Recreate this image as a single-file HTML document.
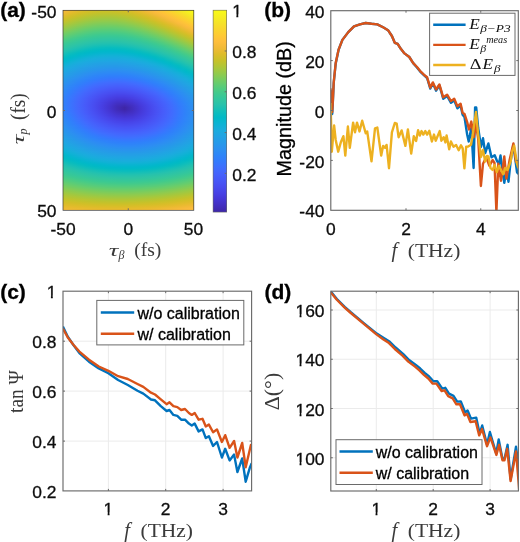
<!DOCTYPE html>
<html><head><meta charset="utf-8"><title>figure</title>
<style>
html,body{margin:0;padding:0;background:#fff}
#fig{position:relative;width:520px;height:542px;overflow:hidden;background:#fff}
.r{position:absolute;left:63px;width:130.8px;height:1px}
#cbar{position:absolute;left:213.1px;top:10.2px;width:13.6px;height:201.9px;background:linear-gradient(180deg,#f9fb15,#f6ef20,#f5e327,#f9d62d,#feca33,#febe3c,#f1ba37,#debc2a,#c8c129,#afc637,#94ca4a,#77cc60,#5ccc76,#44ca8a,#34c79c,#28c2ab,#12beb9,#01b9c6,#0cb3d3,#1aacdd,#21a3e3,#269ae9,#2c90f0,#2e85f8,#347afd,#3f6efe,#4562fc,#4757f7,#484cef,#4741e5,#4536d5,#422ebf,#3e26a8)}
svg{position:absolute;left:0;top:0}
</style></head><body>
<div id="fig">
<div class="r" style="top:10px;background:linear-gradient(90deg,#fabb3d,#efba35,#e4bb2c,#dabd28,#d3bf27,#cfc028,#cfc028,#d2bf27,#d8be28,#e0bc2a,#ebba31,#f6ba3c,#fec03b,#feca33,#f9d72d,#f5e426,#f6f21d,#f9fb15)"></div>
<div class="r" style="top:11px;background:linear-gradient(90deg,#f7ba3c,#eaba31,#dfbc2a,#d5be28,#cec028,#cac129,#cac129,#ccc028,#d3bf27,#dbbd29,#e6bb2d,#f2ba38,#fdbd3d,#fec735,#fbd32e,#f6e128,#f6ef20,#f9fb15)"></div>
<div class="r" style="top:12px;background:linear-gradient(90deg,#f2ba38,#e6bb2d,#dabd28,#d0bf27,#c9c129,#c5c22a,#c4c22b,#c7c12a,#cdc028,#d6be28,#e2bc2b,#eeba34,#fabb3d,#fec437,#fcd030,#f6dd29,#f5ec23,#f9fa16)"></div>
<div class="r" style="top:13px;background:linear-gradient(90deg,#eeba34,#e1bc2b,#d5be28,#cbc129,#c4c22b,#bfc32d,#bfc32e,#c2c22c,#c8c129,#d1bf27,#ddbd29,#eabb30,#f7ba3c,#fec13a,#fdcd32,#f8da2b,#f5e825,#f8f61a)"></div>
<div class="r" style="top:14px;background:linear-gradient(90deg,#eabb30,#dcbd29,#d0bf27,#c6c22a,#bec32e,#bac430,#b9c430,#bcc42f,#c3c22b,#ccc028,#d8be28,#e5bb2d,#f3ba39,#febe3c,#fec934,#f9d62d,#f5e426,#f7f31d)"></div>
<div class="r" style="top:15px;background:linear-gradient(90deg,#e5bb2d,#d7be28,#cac129,#c0c32d,#b8c431,#b4c534,#b3c534,#b6c532,#bdc32e,#c7c12a,#d3bf27,#e0bc2b,#efba35,#fcbc3d,#fec636,#fbd32e,#f6e128,#f6ef20)"></div>
<div class="r" style="top:16px;background:linear-gradient(90deg,#e0bc2b,#d2bf27,#c5c22a,#bac430,#b2c535,#aec637,#adc638,#b0c636,#b7c532,#c1c32c,#cdc028,#dbbd29,#eaba31,#f9ba3d,#fec338,#fccf30,#f6dd29,#f5ec22)"></div>
<div class="r" style="top:17px;background:linear-gradient(90deg,#dbbd29,#cdc028,#bfc32d,#b4c533,#acc738,#a8c73b,#a7c73c,#aac739,#b1c635,#bbc42f,#c8c129,#d6be28,#e5bb2d,#f4ba3a,#fec03b,#fdcc32,#f8da2b,#f5e825)"></div>
<div class="r" style="top:18px;background:linear-gradient(90deg,#d6be28,#c7c12a,#b9c430,#aec637,#a6c83c,#a2c840,#a1c840,#a4c83e,#abc739,#b5c533,#c2c22c,#d1bf27,#e0bc2b,#f0ba36,#fdbd3d,#fec934,#f9d62d,#f5e426)"></div>
<div class="r" style="top:19px;background:linear-gradient(90deg,#d1bf27,#c1c32c,#b3c534,#a8c73b,#a0c841,#9bc944,#9bc945,#9ec942,#a5c83e,#afc637,#bcc42f,#cbc129,#dbbd29,#ebba32,#fabb3d,#fec537,#fbd22f,#f6e128)"></div>
<div class="r" style="top:20px;background:linear-gradient(90deg,#cbc029,#bbc42f,#adc638,#a2c840,#9ac946,#95ca49,#94ca4a,#97ca47,#9ec942,#a9c73b,#b6c532,#c5c22a,#d6be28,#e7bb2e,#f7ba3c,#fec239,#fccf30,#f7dd2a)"></div>
<div class="r" style="top:21px;background:linear-gradient(90deg,#c6c22a,#b5c533,#a7c73c,#9bc944,#93ca4b,#8fcb4e,#8ecb4f,#91ca4c,#98ca47,#a2c83f,#b0c636,#bfc32d,#d0bf27,#e2bc2b,#f2ba38,#febf3b,#fdcb33,#f8d92b)"></div>
<div class="r" style="top:22px;background:linear-gradient(90deg,#c0c32d,#afc637,#a0c840,#95ca49,#8dcb50,#88cb53,#87cb54,#8acb51,#91ca4c,#9cc944,#a9c73a,#b9c431,#cac129,#dcbd29,#eeba34,#fcbd3d,#fec835,#fad62d)"></div>
<div class="r" style="top:23px;background:linear-gradient(90deg,#bac430,#a9c73b,#9ac945,#8ecb4e,#86cb55,#81cc58,#81cc59,#84cc56,#8bcb51,#95ca49,#a2c83f,#b3c534,#c4c22a,#d7be28,#e9bb2f,#f9bb3d,#fec537,#fbd22f)"></div>
<div class="r" style="top:24px;background:linear-gradient(90deg,#b3c534,#a2c83f,#93ca4a,#88cb53,#7fcc5a,#7bcc5d,#7acc5e,#7dcc5b,#84cc56,#8ecb4e,#9cc944,#acc738,#bec32e,#d1bf27,#e4bb2c,#f5ba3a,#fec13a,#fdce31)"></div>
<div class="r" style="top:25px;background:linear-gradient(90deg,#adc638,#9cc944,#8dcb4f,#81cc58,#79cc5f,#74cc62,#73cd63,#76cc60,#7dcc5b,#87cb54,#95ca49,#a5c83d,#b8c431,#cbc129,#debc2a,#f0ba36,#febe3c,#fdcb33)"></div>
<div class="r" style="top:26px;background:linear-gradient(90deg,#a7c73c,#95ca49,#86cb55,#7acc5d,#72cd64,#6dcd67,#6dcd68,#6fcd65,#76cc60,#81cc59,#8ecb4e,#9fc942,#b1c635,#c5c22a,#d9be28,#ebba32,#fbbc3d,#fec735)"></div>
<div class="r" style="top:27px;background:linear-gradient(90deg,#a0c841,#8ecb4e,#7fcc5a,#73cd62,#6bcd69,#67cd6c,#66cd6d,#69cd6b,#6fcd66,#79cc5e,#87cb54,#98ca47,#aac739,#bfc32e,#d3bf27,#e6bb2d,#f8ba3d,#fec438)"></div>
<div class="r" style="top:28px;background:linear-gradient(90deg,#99c946,#88cb53,#78cc5f,#6dcd68,#65cd6e,#61cd71,#60cd72,#63cd70,#69cd6b,#72cd63,#80cc59,#91ca4c,#a4c83e,#b8c431,#cdc028,#e1bc2b,#f3ba39,#fec13a)"></div>
<div class="r" style="top:29px;background:linear-gradient(90deg,#93ca4b,#81cc59,#72cd64,#66cd6d,#5fcd73,#5bcc76,#5acc77,#5dcc75,#62cd70,#6ccd68,#79cc5e,#8acb52,#9dc943,#b1c635,#c7c12a,#dbbd29,#eeba35,#febd3c)"></div>
<div class="r" style="top:30px;background:linear-gradient(90deg,#8ccb50,#7acc5e,#6bcd69,#60cd72,#59cc78,#55cc7b,#54cc7c,#57cc7a,#5ccc75,#65cd6e,#72cd64,#82cc57,#95ca49,#aac739,#c0c32d,#d6be28,#e9bb30,#fabb3d)"></div>
<div class="r" style="top:31px;background:linear-gradient(90deg,#85cb55,#73cd63,#65cd6e,#5acc77,#53cc7d,#4fcc80,#4fcc81,#51cc7f,#56cc7b,#5fcd73,#6bcd69,#7bcc5d,#8ecb4e,#a3c83e,#bac430,#d0c028,#e4bb2c,#f7ba3c)"></div>
<div class="r" style="top:32px;background:linear-gradient(90deg,#7ecc5b,#6ccd68,#5fcd73,#55cc7c,#4dcc82,#4acb85,#49cb85,#4bcb84,#50cc7f,#59cc78,#64cd6f,#74cc62,#87cb54,#9cc944,#b3c534,#c9c129,#dfbc2a,#f2ba38)"></div>
<div class="r" style="top:33px;background:linear-gradient(90deg,#77cc60,#66cd6d,#59cc78,#4fcc81,#48cb86,#44cb89,#44ca8a,#46cb88,#4acb84,#53cc7d,#5ecd74,#6dcd68,#80cc59,#95ca49,#acc739,#c3c22b,#d9be28,#edba33)"></div>
<div class="r" style="top:34px;background:linear-gradient(90deg,#70cd65,#60cd72,#53cc7d,#49cb85,#43ca8b,#3fca8e,#3fca8e,#40ca8d,#45cb89,#4dcb82,#58cc79,#66cd6d,#78cc5f,#8ecb4f,#a4c83e,#bcc42f,#d3bf27,#e8bb2e)"></div>
<div class="r" style="top:35px;background:linear-gradient(90deg,#6acd6a,#5acc78,#4dcc82,#44cb8a,#3eca8f,#3cc992,#3bc993,#3cc991,#40ca8d,#47cb87,#52cc7e,#5fcd73,#71cd64,#86cb55,#9dc943,#b5c533,#ccc028,#e2bc2b)"></div>
<div class="r" style="top:36px;background:linear-gradient(90deg,#63cd6f,#54cc7d,#48cb87,#3fca8e,#3ac993,#38c896,#37c897,#39c895,#3cc992,#42ca8c,#4bcb83,#59cc78,#6acd6a,#7fcc5a,#96ca48,#aec637,#c6c22a,#ddbd29)"></div>
<div class="r" style="top:37px;background:linear-gradient(90deg,#5dcc75,#4ecc81,#42ca8b,#3bc992,#37c897,#35c79a,#35c79b,#35c799,#38c896,#3dc990,#46cb88,#53cc7d,#63cd70,#77cc60,#8ecb4e,#a7c73c,#bfc32d,#d7be28)"></div>
<div class="r" style="top:38px;background:linear-gradient(90deg,#57cc7a,#48cb86,#3eca8f,#38c897,#34c79b,#32c69e,#32c69f,#33c69d,#35c79a,#39c995,#40ca8d,#4ccb82,#5ccc75,#70cd65,#87cb54,#9fc941,#b8c431,#d0bf27)"></div>
<div class="r" style="top:39px;background:linear-gradient(90deg,#51cc7e,#43ca8a,#3ac994,#35c79a,#32c69f,#30c5a2,#2fc5a2,#30c5a1,#32c69e,#36c899,#3cc991,#47cb87,#56cc7b,#68cd6b,#7fcc5a,#98c947,#b1c635,#cac129)"></div>
<div class="r" style="top:40px;background:linear-gradient(90deg,#4ccb83,#3eca8f,#37c898,#32c69e,#2fc5a3,#2dc4a5,#2dc4a6,#2dc4a5,#30c5a2,#33c69d,#38c896,#41ca8c,#50cc80,#62cd71,#78cc5f,#91ca4d,#aac73a,#c3c22b)"></div>
<div class="r" style="top:41px;background:linear-gradient(90deg,#46cb88,#3bc993,#34c79c,#30c5a2,#2cc4a6,#2ac3a9,#29c3aa,#2ac3a8,#2dc4a6,#30c5a1,#35c79a,#3dc991,#49cb85,#5bcc77,#70cd65,#89cb52,#a3c83f,#bcc42f)"></div>
<div class="r" style="top:42px;background:linear-gradient(90deg,#41ca8c,#37c897,#31c69f,#2dc4a6,#29c3aa,#26c2ac,#25c2ad,#27c2ac,#2ac3a9,#2ec4a5,#32c69e,#39c895,#44ca8a,#54cc7c,#69cd6b,#81cc58,#9bc944,#b5c533)"></div>
<div class="r" style="top:43px;background:linear-gradient(90deg,#3dc990,#34c79b,#2fc5a3,#2ac3a9,#25c2ad,#22c1b0,#21c1b0,#22c1af,#26c2ad,#2bc3a8,#30c5a2,#35c79a,#3eca8f,#4ecc81,#62cd71,#79cc5e,#94ca4a,#aec637)"></div>
<div class="r" style="top:44px;background:linear-gradient(90deg,#39c995,#32c69f,#2cc4a7,#26c2ac,#20c1b1,#1dc0b3,#1bc0b4,#1dc0b3,#21c1b0,#27c2ac,#2dc4a6,#33c69e,#3ac993,#48cb86,#5bcc76,#72cd64,#8ccb50,#a7c73c)"></div>
<div class="r" style="top:45px;background:linear-gradient(90deg,#36c899,#2fc5a2,#29c3aa,#22c1b0,#1bc0b4,#17bfb6,#15bfb7,#17bfb6,#1cc0b4,#22c1af,#29c3a9,#30c5a2,#37c898,#42ca8b,#54cc7c,#6acd6a,#84cb56,#9fc941)"></div>
<div class="r" style="top:46px;background:linear-gradient(90deg,#34c79c,#2dc4a6,#25c2ad,#1dc0b3,#15bfb7,#11beba,#0fbebb,#11beba,#16bfb7,#1dc0b3,#25c2ad,#2dc4a6,#34c79c,#3dc990,#4ecc81,#63cd70,#7dcc5c,#98c947)"></div>
<div class="r" style="top:47px;background:linear-gradient(90deg,#31c6a0,#2ac3a9,#20c1b1,#17bfb6,#0fbebb,#0abdbd,#09bcbe,#0abdbd,#0fbebb,#17bfb6,#20c1b1,#29c3a9,#31c6a0,#39c995,#48cb86,#5ccc75,#75cc61,#90ca4d)"></div>
<div class="r" style="top:48px;background:linear-gradient(90deg,#2ec5a4,#26c2ad,#1bc0b4,#11beba,#09bdbe,#06bcc0,#05bbc1,#06bcc0,#09bcbe,#10beba,#1bc0b4,#25c2ad,#2ec4a4,#36c799,#42ca8b,#56cc7b,#6dcd67,#89cb53)"></div>
<div class="r" style="top:49px;background:linear-gradient(90deg,#2cc4a7,#22c1b0,#16bfb7,#0bbdbd,#05bbc1,#02bac3,#02bac4,#02bac4,#05bbc1,#0abdbd,#14bfb8,#20c1b1,#2bc3a8,#33c69d,#3dc990,#4fcc80,#66cd6d,#81cc59)"></div>
<div class="r" style="top:50px;background:linear-gradient(90deg,#28c3aa,#1dc0b3,#0fbeba,#06bcc0,#02bac4,#01b9c7,#01b9c8,#01b9c7,#02bac5,#05bbc1,#0ebdbb,#1bc0b4,#27c2ac,#30c5a1,#39c895,#49cb85,#5fcd73,#79cc5e)"></div>
<div class="r" style="top:51px;background:linear-gradient(90deg,#25c2ae,#17bfb6,#0abdbd,#02bbc3,#01b9c7,#01b8ca,#02b7cb,#01b8ca,#01b9c8,#02bac4,#08bcbf,#14bfb8,#23c1af,#2dc4a5,#36c799,#43ca8a,#58cc79,#71cd64)"></div>
<div class="r" style="top:52px;background:linear-gradient(90deg,#20c1b1,#11beb9,#05bbc1,#01b9c6,#01b7ca,#04b6cd,#05b6ce,#04b6cd,#02b7cb,#01b9c7,#04bbc2,#0ebdbb,#1dc0b3,#2ac3a9,#33c69d,#3eca8f,#52cc7e,#6acd6a)"></div>
<div class="r" style="top:53px;background:linear-gradient(90deg,#1bc0b4,#0bbdbd,#02bac4,#01b8c9,#04b6cd,#07b5d0,#08b4d1,#08b5d0,#05b6ce,#02b7cb,#01bac5,#08bcbf,#17bfb6,#26c2ad,#30c5a2,#3ac994,#4bcb83,#63cd70)"></div>
<div class="r" style="top:54px;background:linear-gradient(90deg,#16bfb7,#07bcc0,#01b9c7,#03b7cc,#08b5d0,#0cb3d3,#0db3d4,#0db3d3,#09b4d1,#05b6ce,#01b8c9,#03bbc2,#10beba,#21c1b0,#2dc4a5,#36c898,#45cb88,#5ccc75)"></div>
<div class="r" style="top:55px;background:linear-gradient(90deg,#10beba,#03bbc3,#01b8ca,#06b5cf,#0cb3d3,#11b2d5,#12b1d6,#11b1d6,#0eb2d4,#09b4d1,#03b7cc,#01bac5,#0abdbd,#1bc0b4,#29c3a9,#33c79d,#40ca8d,#56cc7b)"></div>
<div class="r" style="top:56px;background:linear-gradient(90deg,#0abdbd,#01bac6,#04b6cc,#0ab4d2,#11b1d6,#14b0d8,#15afd9,#15afd9,#13b1d7,#0eb3d4,#06b5cf,#01b8c9,#05bbc1,#15bfb8,#25c2ad,#30c5a1,#3cc992,#4fcc80)"></div>
<div class="r" style="top:57px;background:linear-gradient(90deg,#06bcc0,#01b8c8,#07b5cf,#0fb2d5,#14b0d8,#17aedb,#18addb,#18addb,#16afd9,#12b1d7,#0bb3d2,#03b7cc,#02bac4,#0ebdbb,#20c1b1,#2ec4a5,#38c897,#49cb85)"></div>
<div class="r" style="top:58px;background:linear-gradient(90deg,#02bbc3,#02b7cb,#0bb3d2,#13b0d7,#18aedb,#1aacdd,#1aabdd,#1aabdd,#19addc,#16afd9,#10b2d5,#06b5cf,#01b9c8,#08bcbf,#1bc0b4,#2ac3a8,#35c79b,#43ca8a)"></div>
<div class="r" style="top:59px;background:linear-gradient(90deg,#01b9c6,#05b6ce,#0fb2d5,#16afda,#1aacdd,#1caadf,#1ca9e0,#1ca9df,#1babde,#19addc,#14b0d8,#0bb3d2,#02b7cb,#04bbc2,#14bfb8,#26c2ac,#32c69f,#3eca8f)"></div>
<div class="r" style="top:60px;background:linear-gradient(90deg,#01b8c9,#09b4d1,#13b0d7,#19addc,#1caadf,#1da8e0,#1ea7e1,#1ea7e1,#1da8e0,#1babde,#17aeda,#10b2d5,#05b6ce,#01bac5,#0ebdbb,#22c1b0,#2fc5a3,#3ac994)"></div>
<div class="r" style="top:61px;background:linear-gradient(90deg,#02b7cb,#0db3d3,#16afda,#1babde,#1da8e0,#1fa6e2,#20a5e3,#20a5e2,#1fa6e2,#1da9e0,#1aacdd,#14b0d8,#09b4d1,#01b8c9,#08bcbf,#1cc0b3,#2cc4a7,#36c898)"></div>
<div class="r" style="top:62px;background:linear-gradient(90deg,#05b6ce,#11b1d6,#19addc,#1da9e0,#1fa6e2,#21a3e3,#22a2e4,#21a2e4,#20a4e3,#1fa6e1,#1caadf,#17aedb,#0eb2d4,#03b7cc,#03bbc2,#16bfb7,#28c3aa,#34c79c)"></div>
<div class="r" style="top:63px;background:linear-gradient(90deg,#08b4d1,#14b0d8,#1babde,#1ea7e1,#21a3e3,#22a1e4,#23a0e5,#23a0e5,#22a1e4,#20a4e3,#1ea8e1,#1aacdd,#13b0d7,#06b5cf,#01bac5,#0fbeba,#24c2ae,#31c6a0)"></div>
<div class="r" style="top:64px;background:linear-gradient(90deg,#0cb3d3,#17aeda,#1ca9df,#20a5e2,#22a1e4,#249fe5,#249ee6,#249ee6,#249fe5,#22a2e4,#1fa5e2,#1caadf,#16afda,#0bb4d2,#01b8c9,#09bdbe,#1fc0b1,#2ec5a4)"></div>
<div class="r" style="top:65px;background:linear-gradient(90deg,#11b2d5,#19acdc,#1ea7e1,#21a3e4,#249fe5,#259de7,#259be8,#259be7,#259de7,#249fe5,#21a3e3,#1ea7e1,#19addc,#10b2d5,#03b7cc,#05bbc1,#1abfb5,#2bc3a8)"></div>
<div class="r" style="top:66px;background:linear-gradient(90deg,#14b0d8,#1baade,#1fa5e2,#23a1e5,#259de7,#269ae8,#2699e9,#2699e9,#269ae8,#259de7,#23a1e5,#1fa5e2,#1baade,#14b0d8,#06b5cf,#02bac4,#13beb8,#27c2ab)"></div>
<div class="r" style="top:67px;background:linear-gradient(90deg,#16aeda,#1da9e0,#21a3e3,#249ee6,#269be8,#2798ea,#2797eb,#2796eb,#2798ea,#269ae8,#249ee6,#21a3e3,#1da8e0,#17aeda,#0ab4d2,#01b9c7,#0dbdbc,#24c1af)"></div>
<div class="r" style="top:68px;background:linear-gradient(90deg,#19addc,#1ea7e1,#22a1e4,#259ce7,#2798ea,#2896ec,#2994ed,#2994ed,#2895ec,#2798ea,#259ce7,#23a0e5,#1fa6e2,#1aacdd,#0fb2d5,#02b7cb,#08bcbf,#1ec0b2)"></div>
<div class="r" style="top:69px;background:linear-gradient(90deg,#1aabdd,#20a5e2,#249fe5,#269ae8,#2896eb,#2a93ee,#2b91ef,#2b91ef,#2a93ee,#2895ec,#2699e9,#249ee6,#20a4e3,#1caadf,#13b0d7,#05b6ce,#03bbc2,#19bfb5)"></div>
<div class="r" style="top:70px;background:linear-gradient(90deg,#1caadf,#21a3e3,#249de7,#2798ea,#2994ed,#2b91ef,#2c8ff1,#2c8ff1,#2c90f0,#2a93ee,#2797eb,#259ce7,#22a1e4,#1da8e0,#17aeda,#08b4d1,#01bac5,#13beb9)"></div>
<div class="r" style="top:71px;background:linear-gradient(90deg,#1da8e0,#22a1e4,#259be8,#2896ec,#2b91ef,#2c8ef1,#2d8cf3,#2d8cf3,#2d8df2,#2c90f0,#2994ed,#2699e9,#249fe5,#1fa6e2,#19acdc,#0db3d3,#01b8c8,#0cbdbc)"></div>
<div class="r" style="top:72px;background:linear-gradient(90deg,#1fa6e2,#249fe5,#2699e9,#2a93ed,#2c8ff1,#2d8bf3,#2d8af5,#2d89f5,#2d8bf4,#2d8df2,#2b92ef,#2797eb,#259de7,#21a3e3,#1baade,#12b1d6,#02b7cb,#08bcbf)"></div>
<div class="r" style="top:73px;background:linear-gradient(90deg,#20a4e3,#249de6,#2797eb,#2b91ef,#2d8cf3,#2d89f5,#2e87f7,#2e86f7,#2d88f6,#2d8bf4,#2c8ff1,#2994ed,#269ae8,#22a1e4,#1da8e0,#15afd9,#06b6ce,#03bbc2)"></div>
<div class="r" style="top:74px;background:linear-gradient(90deg,#21a3e4,#259ce7,#2895ec,#2c8ff1,#2d8af5,#2e86f7,#2e84f8,#2e84f9,#2e85f8,#2d88f6,#2d8cf3,#2b92ee,#2798ea,#249fe5,#1fa6e1,#18aedb,#09b4d1,#02bac5)"></div>
<div class="r" style="top:75px;background:linear-gradient(90deg,#23a1e4,#269ae9,#2a93ee,#2d8df2,#2d87f6,#2e84f9,#2f81fa,#2f81fa,#2f82f9,#2e85f8,#2d89f5,#2c8ff1,#2896ec,#259de7,#20a4e3,#1aacdd,#0eb3d4,#01b9c8)"></div>
<div class="r" style="top:76px;background:linear-gradient(90deg,#249fe5,#2798ea,#2b91ef,#2d8af4,#2e85f8,#2f81fa,#307efb,#317efb,#307ffb,#2f82f9,#2e87f7,#2d8cf3,#2a93ed,#269ae8,#22a2e4,#1caadf,#12b1d6,#02b7cb)"></div>
<div class="r" style="top:77px;background:linear-gradient(90deg,#249ee6,#2896eb,#2c8ff1,#2d88f6,#2f82f9,#317efb,#327bfc,#337bfd,#327cfc,#307ffb,#2e84f9,#2d8af5,#2b91ef,#2798ea,#23a0e5,#1da8e0,#15afd9,#05b6cd)"></div>
<div class="r" style="top:78px;background:linear-gradient(90deg,#259ce7,#2994ed,#2d8cf3,#2e86f8,#3080fb,#327bfc,#3578fd,#3677fe,#3579fd,#327cfc,#2f81fa,#2e87f7,#2c8ef1,#2896ec,#249ee6,#1fa6e2,#18aedb,#08b5d0)"></div>
<div class="r" style="top:79px;background:linear-gradient(90deg,#269ae8,#2a92ee,#2d8af4,#2e83f9,#317dfc,#3578fd,#3875fe,#3974fe,#3875fe,#3579fd,#317efb,#2e84f8,#2d8bf3,#2a93ed,#259be7,#21a4e3,#1aacdd,#0cb3d3)"></div>
<div class="r" style="top:80px;background:linear-gradient(90deg,#2699e9,#2b90f0,#2d88f6,#2f81fa,#337afd,#3875fe,#3b72ff,#3d71ff,#3b72ff,#3876fe,#337bfc,#2f81fa,#2d89f5,#2b91ef,#2699e9,#22a2e4,#1baadf,#10b2d5)"></div>
<div class="r" style="top:81px;background:linear-gradient(90deg,#2797eb,#2c8ef1,#2e86f7,#307ffb,#3678fe,#3b72ff,#3e6fff,#3f6efe,#3e6fff,#3b72ff,#3678fe,#307ffb,#2e86f7,#2c8ef1,#2797eb,#23a0e5,#1da8e0,#13b0d7)"></div>
<div class="r" style="top:82px;background:linear-gradient(90deg,#2895ec,#2d8df2,#2e84f8,#327cfc,#3975fe,#3e6fff,#416cfe,#416bfe,#416cfe,#3e6fff,#3974fe,#327cfc,#2e84f9,#2d8cf3,#2895ec,#249ee6,#1ea6e1,#16afd9)"></div>
<div class="r" style="top:83px;background:linear-gradient(90deg,#2994ed,#2d8bf4,#2f82f9,#347afd,#3b72ff,#406cfe,#4369fe,#4367fd,#4368fe,#416cfe,#3c71ff,#3579fd,#2f81fa,#2d8af5,#2a93ee,#259ce7,#20a5e3,#18addb)"></div>
<div class="r" style="top:84px;background:linear-gradient(90deg,#2a92ee,#2d89f5,#2f80fa,#3677fe,#3e6fff,#426afe,#4466fd,#4464fd,#4465fd,#4369fe,#3f6eff,#3876fe,#317efb,#2e87f7,#2b90ef,#269ae9,#21a3e3,#1aacdd)"></div>
<div class="r" style="top:85px;background:linear-gradient(90deg,#2b91ef,#2d87f6,#317efb,#3975fe,#406dfe,#4367fd,#4563fc,#4561fc,#4562fc,#4465fd,#416bfe,#3b72fe,#327cfc,#2e85f8,#2c8ef1,#2798ea,#23a1e4,#1caadf)"></div>
<div class="r" style="top:86px;background:linear-gradient(90deg,#2c8ff0,#2e86f8,#327cfc,#3b72fe,#426afe,#4464fd,#4660fb,#465efb,#465ffb,#4562fc,#4368fe,#3e6fff,#3579fd,#2f82f9,#2d8cf3,#2896ec,#249fe5,#1da8e0)"></div>
<div class="r" style="top:87px;background:linear-gradient(90deg,#2c8ef1,#2e84f8,#347afd,#3d70ff,#4368fe,#4561fc,#465dfa,#475bf9,#475cfa,#465ffb,#4465fd,#406cfe,#3876fe,#3080fa,#2d8af5,#2994ed,#249de6,#1ea7e1)"></div>
<div class="r" style="top:88px;background:linear-gradient(90deg,#2d8df2,#2f83f9,#3678fd,#3f6eff,#4465fd,#465ffb,#475af9,#4758f8,#4759f8,#475cfa,#4562fc,#426afe,#3b73fe,#317dfb,#2d88f6,#2b92ee,#259ce7,#1fa5e2)"></div>
<div class="r" style="top:89px;background:linear-gradient(90deg,#2d8bf3,#2f81fa,#3876fe,#406cfe,#4563fd,#475cfa,#4757f8,#4755f6,#4756f7,#4759f8,#465ffb,#4367fd,#3d70ff,#337bfc,#2e86f8,#2c90f0,#269ae9,#21a4e3)"></div>
<div class="r" style="top:90px;background:linear-gradient(90deg,#2d8af4,#307ffb,#3974fe,#426afe,#4561fc,#475af9,#4755f6,#4852f4,#4853f5,#4756f7,#475cfa,#4564fd,#3f6efe,#3578fd,#2e83f9,#2c8ef1,#2798ea,#22a2e4)"></div>
<div class="r" style="top:91px;background:linear-gradient(90deg,#2d89f5,#317efb,#3b72fe,#4368fe,#465ffb,#4757f7,#4852f4,#484ff2,#4850f2,#4853f5,#4759f9,#4561fc,#416bfe,#3876fe,#2f81fa,#2d8cf3,#2797eb,#23a1e5)"></div>
<div class="r" style="top:92px;background:linear-gradient(90deg,#2d88f6,#317dfc,#3d71ff,#4466fd,#475dfa,#4755f6,#484ff2,#484cf0,#484df0,#4850f3,#4757f7,#465ffb,#4368fe,#3a74fe,#307ffb,#2d8af4,#2895ec,#249fe5)"></div>
<div class="r" style="top:93px;background:linear-gradient(90deg,#2e87f7,#327bfc,#3e6fff,#4464fd,#475bf9,#4853f4,#484df0,#4849ed,#484aed,#484df1,#4854f5,#475cfa,#4466fd,#3c71ff,#317dfc,#2d89f6,#2a93ed,#249ee6)"></div>
<div class="r" style="top:94px;background:linear-gradient(90deg,#2e86f7,#347afd,#3f6efe,#4563fc,#4759f8,#4850f3,#484aee,#4746ea,#4746eb,#484aee,#4851f3,#475af9,#4564fd,#3e6fff,#327bfc,#2e87f7,#2b92ee,#259ce7)"></div>
<div class="r" style="top:95px;background:linear-gradient(90deg,#2e85f8,#3579fd,#406cfe,#4561fc,#4757f7,#484ef1,#4747eb,#4743e7,#4743e7,#4747eb,#484ef1,#4757f7,#4561fc,#406dfe,#3479fd,#2e85f8,#2b90ef,#259be8)"></div>
<div class="r" style="top:96px;background:linear-gradient(90deg,#2e84f8,#3678fd,#416bfe,#4660fb,#4755f6,#484cf0,#4745e9,#4740e4,#4740e4,#4744e9,#484cef,#4755f6,#465ffb,#416bfe,#3677fe,#2e84f9,#2c8ff1,#269ae9)"></div>
<div class="r" style="top:97px;background:linear-gradient(90deg,#2e83f9,#3777fe,#426afe,#465efb,#4854f5,#484aee,#4742e6,#463de0,#463de0,#4741e5,#4849ed,#4853f5,#465dfb,#4269fe,#3876fe,#2f82f9,#2c8ef2,#2699e9)"></div>
<div class="r" style="top:98px;background:linear-gradient(90deg,#2e83f9,#3876fe,#4269fe,#465dfb,#4852f4,#4848ec,#4740e3,#463bdc,#463adc,#473fe2,#4747eb,#4851f3,#475bfa,#4367fd,#3a74fe,#2f81fa,#2d8cf3,#2798ea)"></div>
<div class="r" style="top:99px;background:linear-gradient(90deg,#2f82f9,#3875fe,#4368fe,#475cfa,#4851f3,#4746eb,#463ee0,#4538d8,#4538d7,#463cde,#4744e8,#484ff1,#475af9,#4465fd,#3b72ff,#307ffb,#2d8bf3,#2797eb)"></div>
<div class="r" style="top:100px;background:linear-gradient(90deg,#2f82fa,#3975fe,#4368fd,#475bfa,#4850f3,#4745e9,#463cde,#4536d3,#4435d1,#4639da,#4742e6,#484df0,#4758f8,#4564fd,#3d71ff,#317efb,#2d8af4,#2896ec)"></div>
<div class="r" style="top:101px;background:linear-gradient(90deg,#2f82fa,#3974fe,#4367fd,#475bf9,#484ff2,#4744e8,#463adb,#4434ce,#4433cc,#4537d6,#4740e3,#484bee,#4756f7,#4562fc,#3e6fff,#317dfc,#2d89f5,#2995ec)"></div>
<div class="r" style="top:102px;background:linear-gradient(90deg,#2f81fa,#3a74fe,#4367fd,#475af9,#484ef1,#4742e6,#4538d8,#4332c9,#4331c6,#4435d1,#463ee1,#4849ed,#4755f6,#4561fc,#3f6eff,#327cfc,#2d88f6,#2994ed)"></div>
<div class="r" style="top:103px;background:linear-gradient(90deg,#2f81fa,#3a74fe,#4466fd,#475af9,#484ef1,#4742e6,#4537d6,#4230c4,#422ebf,#4433cd,#463cde,#4848ec,#4854f5,#4660fc,#406dfe,#337bfd,#2d87f7,#2a93ee)"></div>
<div class="r" style="top:104px;background:linear-gradient(90deg,#2f81fa,#3a74fe,#4466fd,#4759f9,#484df0,#4741e5,#4536d4,#422fc0,#412cb9,#4332c8,#463bdc,#4746ea,#4853f5,#465ffb,#406cfe,#347afd,#2e87f7,#2a92ee)"></div>
<div class="r" style="top:105px;background:linear-gradient(90deg,#2f81fa,#3a74fe,#4466fd,#4759f9,#484df0,#4740e4,#4535d2,#412dbc,#402ab3,#4230c4,#4639da,#4745e9,#4852f4,#465efb,#416bfe,#3579fd,#2e86f7,#2b92ee)"></div>
<div class="r" style="top:106px;background:linear-gradient(90deg,#2f81fa,#3a74fe,#4466fd,#4759f9,#484df0,#4740e4,#4435d1,#412cba,#3f28ad,#422fc1,#4538d8,#4744e8,#4851f3,#465efb,#416bfe,#3578fd,#2e85f8,#2b91ef)"></div>
<div class="r" style="top:107px;background:linear-gradient(90deg,#2f82fa,#3a74fe,#4366fd,#475af9,#484df0,#4740e4,#4435d1,#412cb8,#3e26a8,#422ebf,#4538d7,#4744e8,#4850f3,#465dfa,#426afe,#3678fd,#2e85f8,#2b91ef)"></div>
<div class="r" style="top:108px;background:linear-gradient(90deg,#2f82fa,#3974fe,#4367fd,#475af9,#484df1,#4740e4,#4435d1,#412cb9,#3e26a8,#412ebe,#4537d6,#4743e7,#4850f3,#475dfa,#426afe,#3677fe,#2e85f8,#2b90ef)"></div>
<div class="r" style="top:109px;background:linear-gradient(90deg,#2f82f9,#3975fe,#4367fd,#475af9,#484ef1,#4741e5,#4536d2,#412cba,#3e26a9,#412ebe,#4537d6,#4743e7,#4850f2,#475cfa,#4269fe,#3777fe,#2e84f8,#2b90f0)"></div>
<div class="r" style="top:110px;background:linear-gradient(90deg,#2e83f9,#3875fe,#4368fe,#475bf9,#484ef1,#4742e6,#4536d4,#412dbd,#3f28af,#422ebf,#4537d6,#4743e7,#4850f2,#475cfa,#4269fe,#3777fe,#2e84f8,#2c90f0)"></div>
<div class="r" style="top:111px;background:linear-gradient(90deg,#2e83f9,#3876fe,#4368fe,#475cfa,#484ff2,#4743e7,#4537d6,#422fc1,#402ab5,#422fc2,#4538d7,#4743e7,#4850f2,#475cfa,#4269fe,#3777fe,#2e84f8,#2c90f0)"></div>
<div class="r" style="top:112px;background:linear-gradient(90deg,#2e84f8,#3777fe,#4269fe,#475cfa,#4850f3,#4744e8,#4539d8,#4330c5,#412cba,#4330c5,#4539d8,#4744e8,#4850f3,#475cfa,#4269fe,#3777fe,#2e84f8,#2c90f0)"></div>
<div class="r" style="top:113px;background:linear-gradient(90deg,#2e85f8,#3678fe,#426afe,#465dfb,#4851f3,#4745e9,#463adb,#4332ca,#422fc0,#4332c9,#4639da,#4744e9,#4851f3,#475dfa,#4269fe,#3777fe,#2e84f8,#2c90f0)"></div>
<div class="r" style="top:114px;background:linear-gradient(90deg,#2e85f8,#3579fd,#416bfe,#465efb,#4852f4,#4747eb,#463cde,#4434ce,#4331c6,#4433cd,#463bdc,#4745e9,#4851f3,#465dfa,#426afe,#3677fe,#2e84f8,#2c90f0)"></div>
<div class="r" style="top:115px;background:linear-gradient(90deg,#2e86f7,#347afd,#406cfe,#4660fb,#4854f5,#4848ec,#463de0,#4536d3,#4433cc,#4435d1,#463cdf,#4746eb,#4852f4,#465efb,#426afe,#3678fe,#2e84f8,#2c90f0)"></div>
<div class="r" style="top:116px;background:linear-gradient(90deg,#2e87f7,#337bfd,#3f6dfe,#4661fc,#4755f6,#484aee,#473fe3,#4538d7,#4435d1,#4537d6,#463ee1,#4848ec,#4853f5,#465efb,#416bfe,#3678fd,#2e85f8,#2b90f0)"></div>
<div class="r" style="top:117px;background:linear-gradient(90deg,#2d88f6,#327cfc,#3f6eff,#4562fc,#4756f7,#484cef,#4742e6,#463adb,#4537d6,#4639d9,#4740e3,#4849ed,#4854f5,#465ffb,#416bfe,#3579fd,#2e85f8,#2b91ef)"></div>
<div class="r" style="top:118px;background:linear-gradient(90deg,#2d89f5,#317dfc,#3e70ff,#4563fd,#4758f8,#484df1,#4744e8,#463ddf,#463ada,#463bdd,#4741e5,#484bee,#4755f6,#4660fc,#406cfe,#3479fd,#2e86f8,#2b91ef)"></div>
<div class="r" style="top:119px;background:linear-gradient(90deg,#2d8af5,#317efb,#3c71ff,#4465fd,#475af9,#484ff2,#4746ea,#473fe3,#463cdf,#463ee1,#4744e8,#484cf0,#4756f7,#4561fc,#406dfe,#347afd,#2e86f7,#2b91ef)"></div>
<div class="r" style="top:120px;background:linear-gradient(90deg,#2d8bf4,#307ffb,#3b73fe,#4366fd,#475bfa,#4851f4,#4848ec,#4742e6,#473fe2,#4740e4,#4746ea,#484ef1,#4758f8,#4562fc,#3f6eff,#337bfd,#2e87f7,#2b92ee)"></div>
<div class="r" style="top:121px;background:linear-gradient(90deg,#2d8cf3,#2f81fa,#3974fe,#4368fe,#465dfa,#4853f5,#484bef,#4745e9,#4742e6,#4743e7,#4848ec,#4850f2,#4759f8,#4563fd,#3e6fff,#327cfc,#2d87f7,#2a92ee)"></div>
<div class="r" style="top:122px;background:linear-gradient(90deg,#2d8df2,#2f82fa,#3876fe,#426afe,#465ffb,#4755f6,#484df1,#4747eb,#4745e9,#4746ea,#484aee,#4852f4,#475bf9,#4465fd,#3d70ff,#317dfc,#2d88f6,#2a93ee)"></div>
<div class="r" style="top:123px;background:linear-gradient(90deg,#2c8ef1,#2e83f9,#3677fe,#416cfe,#4561fc,#4758f8,#4850f2,#484aee,#4747ec,#4848ec,#484df0,#4854f5,#475cfa,#4466fd,#3c72ff,#317efb,#2d89f5,#2994ed)"></div>
<div class="r" style="top:124px;background:linear-gradient(90deg,#2c8ff0,#2e84f8,#3579fd,#3f6dfe,#4563fc,#475af9,#4852f4,#484df0,#484aee,#484bef,#484ff2,#4756f6,#465efb,#4368fe,#3b73fe,#307ffb,#2d8af5,#2994ed)"></div>
<div class="r" style="top:125px;background:linear-gradient(90deg,#2b90ef,#2e86f7,#337bfd,#3e6fff,#4465fd,#475cfa,#4755f6,#4850f2,#484df0,#484ef1,#4852f4,#4758f8,#4660fb,#4269fe,#3974fe,#3080fa,#2d8bf4,#2895ec)"></div>
<div class="r" style="top:126px;background:linear-gradient(90deg,#2b92ee,#2e87f7,#327dfc,#3c71ff,#4367fd,#465efb,#4757f7,#4852f4,#4850f2,#4851f3,#4854f5,#475af9,#4562fc,#416bfe,#3876fe,#2f81fa,#2d8cf3,#2896eb)"></div>
<div class="r" style="top:127px;background:linear-gradient(90deg,#2a93ee,#2d89f5,#317efb,#3a73fe,#4269fe,#4661fc,#475af9,#4755f6,#4853f5,#4853f5,#4757f7,#475cfa,#4564fd,#406dfe,#3677fe,#2f82f9,#2d8df2,#2797eb)"></div>
<div class="r" style="top:128px;background:linear-gradient(90deg,#2994ed,#2d8af4,#3080fa,#3875fe,#416bfe,#4563fd,#475cfa,#4758f8,#4755f6,#4756f7,#4759f8,#465efb,#4466fd,#3e6fff,#3479fd,#2e84f9,#2c8ef2,#2798ea)"></div>
<div class="r" style="top:129px;background:linear-gradient(90deg,#2895ec,#2d8cf3,#2f82fa,#3678fe,#3f6efe,#4465fd,#465ffb,#475af9,#4758f8,#4759f8,#475cfa,#4561fc,#4368fe,#3d71ff,#337bfc,#2e85f8,#2c8ff1,#2699ea)"></div>
<div class="r" style="top:130px;background:linear-gradient(90deg,#2797eb,#2d8df2,#2e84f9,#347afd,#3d70ff,#4368fe,#4562fc,#465dfa,#475bf9,#475bfa,#465efb,#4563fd,#426afe,#3b73fe,#317dfc,#2e86f7,#2c90f0,#2699e9)"></div>
<div class="r" style="top:131px;background:linear-gradient(90deg,#2798ea,#2c8ff1,#2e85f8,#327cfc,#3b73fe,#416afe,#4464fd,#4660fb,#465efb,#465efb,#4561fc,#4466fd,#406cfe,#3975fe,#307efb,#2d88f6,#2b91ef,#269be8)"></div>
<div class="r" style="top:132px;background:linear-gradient(90deg,#2699e9,#2b90f0,#2e87f7,#317efb,#3975fe,#406dfe,#4367fd,#4563fc,#4661fc,#4561fc,#4564fd,#4368fe,#3e6fff,#3777fe,#2f80fa,#2d89f5,#2a92ee,#259ce7)"></div>
<div class="r" style="top:133px;background:linear-gradient(90deg,#259be8,#2b92ee,#2d89f5,#2f80fa,#3678fe,#3e70ff,#426afe,#4466fd,#4564fd,#4564fd,#4466fd,#416bfe,#3c71ff,#3479fd,#2f82fa,#2d8bf4,#2994ed,#259de7)"></div>
<div class="r" style="top:134px;background:linear-gradient(90deg,#259ce7,#2a93ed,#2d8bf4,#2f82f9,#347afd,#3b72fe,#406dfe,#4368fe,#4367fd,#4367fd,#4269fe,#3f6efe,#3a74fe,#327cfc,#2e84f9,#2d8cf3,#2895ec,#249ee6)"></div>
<div class="r" style="top:135px;background:linear-gradient(90deg,#249de6,#2895ec,#2d8df2,#2e84f8,#327dfc,#3875fe,#3e6fff,#416bfe,#4269fe,#426afe,#406cfe,#3d70ff,#3776fe,#317efb,#2e86f8,#2c8ef1,#2797eb,#249fe5)"></div>
<div class="r" style="top:136px;background:linear-gradient(90deg,#249fe5,#2797eb,#2c8ef1,#2e86f7,#307ffb,#3678fd,#3b72ff,#3f6eff,#406cfe,#406dfe,#3e6fff,#3a73fe,#3579fd,#3080fa,#2d88f6,#2c90f0,#2798ea,#23a0e5)"></div>
<div class="r" style="top:137px;background:linear-gradient(90deg,#23a0e5,#2798ea,#2b90f0,#2d88f6,#2f81fa,#337bfd,#3875fe,#3c71ff,#3e6fff,#3e70ff,#3c72ff,#3876fe,#327cfc,#2f82f9,#2d89f5,#2b91ef,#2699e9,#22a1e4)"></div>
<div class="r" style="top:138px;background:linear-gradient(90deg,#22a2e4,#269ae9,#2b92ee,#2d8bf4,#2e84f9,#317dfb,#3578fd,#3974fe,#3b73fe,#3b73fe,#3975fe,#3579fd,#317efb,#2e84f8,#2d8bf3,#2a93ee,#259be8,#21a3e4)"></div>
<div class="r" style="top:139px;background:linear-gradient(90deg,#21a3e3,#259be7,#2994ed,#2d8df2,#2e86f7,#3080fa,#337bfc,#3678fe,#3876fe,#3876fe,#3678fe,#327cfc,#2f81fa,#2e87f7,#2d8df2,#2995ec,#259ce7,#20a4e3)"></div>
<div class="r" style="top:140px;background:linear-gradient(90deg,#20a5e3,#249de6,#2896ec,#2c8ff1,#2d88f6,#2e83f9,#317efb,#337bfd,#3579fd,#3579fd,#337bfd,#317efb,#2e83f9,#2d89f5,#2c8ff0,#2796eb,#249ee6,#1fa5e2)"></div>
<div class="r" style="top:141px;background:linear-gradient(90deg,#1fa6e2,#249fe6,#2798ea,#2b91ef,#2d8bf4,#2e85f8,#2f81fa,#317efb,#327cfc,#327cfc,#317efb,#2f81fa,#2e85f8,#2d8bf4,#2b91ef,#2798ea,#249fe5,#1ea7e1)"></div>
<div class="r" style="top:142px;background:linear-gradient(90deg,#1ea8e1,#23a0e5,#269ae9,#2a93ee,#2d8df2,#2d88f6,#2e83f9,#2f80fa,#307ffb,#307ffb,#2f81fa,#2e84f9,#2d88f6,#2d8df2,#2a93ed,#269ae9,#23a1e4,#1da8e0)"></div>
<div class="r" style="top:143px;background:linear-gradient(90deg,#1ca9e0,#22a2e4,#259be8,#2895ec,#2c8ff0,#2d8af4,#2e86f7,#2e83f9,#2f82fa,#2f82fa,#2e83f9,#2e86f7,#2d8af4,#2c8ff0,#2895ec,#259ce7,#22a2e4,#1ca9df)"></div>
<div class="r" style="top:144px;background:linear-gradient(90deg,#1baade,#21a4e3,#249de6,#2797eb,#2b91ef,#2d8df3,#2d89f6,#2e86f7,#2e84f8,#2e84f8,#2e86f7,#2d89f5,#2d8df2,#2b92ef,#2797eb,#249de6,#20a4e3,#1babde)"></div>
<div class="r" style="top:145px;background:linear-gradient(90deg,#1aacdd,#1fa5e2,#249fe5,#2699e9,#2994ed,#2c8ff1,#2d8bf4,#2d89f6,#2e87f7,#2e87f7,#2d89f6,#2d8bf4,#2c8ff1,#2994ed,#2699e9,#249fe5,#1fa6e2,#1aacdd)"></div>
<div class="r" style="top:146px;background:linear-gradient(90deg,#18addb,#1ea7e1,#23a1e4,#259be8,#2896eb,#2b91ef,#2c8ef2,#2d8bf4,#2d8af5,#2d8af5,#2d8bf4,#2c8ef2,#2b91ef,#2896eb,#259be8,#23a1e4,#1ea7e1,#18addb)"></div>
<div class="r" style="top:147px;background:linear-gradient(90deg,#16afda,#1da9e0,#21a3e4,#249de7,#2798ea,#2994ed,#2b90f0,#2c8ef2,#2d8df2,#2d8df2,#2c8ef2,#2b90f0,#2994ed,#2798ea,#249de6,#21a3e3,#1da9e0,#16afd9)"></div>
<div class="r" style="top:148px;background:linear-gradient(90deg,#14b0d8,#1baade,#20a5e3,#249fe5,#269ae8,#2896eb,#2a93ee,#2b90ef,#2c8ff0,#2c8ff0,#2b90ef,#2a93ee,#2896eb,#269ae8,#249fe5,#20a5e3,#1baade,#14b0d8)"></div>
<div class="r" style="top:149px;background:linear-gradient(90deg,#11b1d6,#1aacdd,#1fa6e1,#22a1e4,#259ce7,#2698ea,#2895ec,#2a93ee,#2b92ee,#2b92ee,#2a93ee,#2895ec,#2698ea,#259ce7,#22a1e4,#1fa6e1,#1aacdd,#11b1d6)"></div>
<div class="r" style="top:150px;background:linear-gradient(90deg,#0eb2d4,#18addb,#1da8e0,#21a3e3,#249ee6,#269be8,#2798ea,#2895ec,#2994ed,#2994ed,#2895ec,#2798ea,#269be8,#249ee6,#21a3e3,#1da8e0,#18addb,#0eb2d4)"></div>
<div class="r" style="top:151px;background:linear-gradient(90deg,#0ab4d2,#16afd9,#1caadf,#20a5e2,#23a1e5,#259de7,#269ae9,#2798ea,#2797eb,#2797eb,#2798ea,#269ae9,#259de7,#23a1e5,#20a5e2,#1caadf,#16afd9,#0ab4d2)"></div>
<div class="r" style="top:152px;background:linear-gradient(90deg,#07b5d0,#13b0d7,#1aacdd,#1ea7e1,#21a3e4,#249fe5,#259ce7,#269ae8,#2699e9,#2699e9,#269ae8,#259ce7,#249fe5,#21a3e4,#1ea7e1,#1aacdd,#13b0d7,#07b5d0)"></div>
<div class="r" style="top:153px;background:linear-gradient(90deg,#05b6cd,#10b2d5,#18addb,#1da9e0,#20a5e2,#22a1e4,#249fe6,#259de7,#259ce7,#259ce7,#259de7,#249fe6,#22a1e4,#20a5e2,#1da9e0,#18addb,#10b2d5,#05b6cd)"></div>
<div class="r" style="top:154px;background:linear-gradient(90deg,#02b7cb,#0cb3d3,#16afd9,#1babde,#1ea7e1,#21a3e3,#23a1e4,#249fe5,#249ee6,#249ee6,#249fe5,#23a1e4,#21a3e3,#1ea7e1,#1babde,#16afd9,#0cb3d3,#02b7cb)"></div>
<div class="r" style="top:155px;background:linear-gradient(90deg,#01b8c9,#08b4d0,#13b0d7,#19addc,#1da9e0,#1fa6e2,#21a3e3,#22a1e4,#23a0e5,#23a0e5,#22a1e4,#21a3e3,#1fa6e2,#1da9e0,#19addc,#13b0d7,#08b4d0,#01b8c9)"></div>
<div class="r" style="top:156px;background:linear-gradient(90deg,#01b9c6,#05b6ce,#0fb2d5,#17aeda,#1babde,#1da8e0,#1fa5e2,#21a4e3,#21a3e3,#21a3e3,#21a4e3,#1fa5e2,#1da8e0,#1babde,#17aeda,#0fb2d5,#05b6ce,#01b9c6)"></div>
<div class="r" style="top:157px;background:linear-gradient(90deg,#02bac4,#03b7cc,#0bb3d2,#14b0d8,#19addc,#1caadf,#1ea8e1,#1fa6e2,#20a5e2,#20a5e2,#1fa6e2,#1ea8e1,#1caadf,#19addc,#14b0d8,#0bb3d2,#02b7cb,#02bac4)"></div>
<div class="r" style="top:158px;background:linear-gradient(90deg,#05bbc1,#01b8c9,#07b5d0,#10b2d5,#16aeda,#1aacdd,#1caadf,#1da8e0,#1ea7e1,#1ea7e1,#1da8e0,#1caadf,#1aacdd,#16afda,#10b2d5,#07b5d0,#01b8c9,#05bbc1)"></div>
<div class="r" style="top:159px;background:linear-gradient(90deg,#08bcbf,#01b9c6,#04b6cd,#0cb3d3,#13b0d7,#18aedb,#1aacdd,#1baade,#1caadf,#1caadf,#1baade,#1aacdd,#17aedb,#13b0d7,#0cb3d3,#04b6cd,#01b9c6,#09bcbe)"></div>
<div class="r" style="top:160px;background:linear-gradient(90deg,#0cbdbc,#02bac4,#01b7ca,#08b5d0,#0fb2d5,#14b0d8,#18aedb,#19acdc,#1aacdd,#1aacdd,#19acdc,#18aedb,#14b0d8,#0fb2d5,#07b5d0,#01b8ca,#02bac3,#0dbdbc)"></div>
<div class="r" style="top:161px;background:linear-gradient(90deg,#11beb9,#05bbc1,#01b9c8,#05b6cd,#0bb4d2,#11b1d6,#14b0d8,#17aeda,#18aedb,#18aedb,#16aeda,#14b0d8,#11b2d5,#0ab4d2,#04b6cd,#01b9c7,#06bcc0,#12beb9)"></div>
<div class="r" style="top:162px;background:linear-gradient(90deg,#16bfb7,#09bcbe,#02bac5,#02b7cb,#07b5cf,#0cb3d3,#11b1d6,#13b0d7,#14b0d8,#14b0d8,#13b0d7,#11b2d5,#0cb3d3,#06b5cf,#01b8ca,#02bac4,#0abdbe,#18bfb6)"></div>
<div class="r" style="top:163px;background:linear-gradient(90deg,#1bc0b4,#0dbdbb,#03bbc2,#01b9c8,#04b6cc,#07b5d0,#0cb3d3,#0fb2d5,#11b2d5,#10b2d5,#0fb2d4,#0cb3d3,#07b5d0,#03b7cc,#01b9c7,#04bbc1,#0fbebb,#1dc0b3)"></div>
<div class="r" style="top:164px;background:linear-gradient(90deg,#20c1b1,#13beb9,#07bcbf,#02bac5,#01b8c9,#04b6cd,#07b5d0,#0ab4d2,#0bb3d2,#0bb3d2,#0ab4d1,#07b5d0,#04b6cd,#01b8c9,#02bac4,#09bcbe,#14bfb8,#21c1b0)"></div>
<div class="r" style="top:165px;background:linear-gradient(90deg,#24c1ae,#18bfb6,#0cbdbc,#04bbc2,#01b9c6,#01b8ca,#04b6cd,#06b5cf,#07b5cf,#07b5cf,#06b5ce,#04b6cc,#01b8ca,#01b9c6,#05bbc1,#0dbdbb,#1ac0b5,#25c2ad)"></div>
<div class="r" style="top:166px;background:linear-gradient(90deg,#27c2ac,#1dc0b3,#12beb9,#08bcbf,#02bac3,#01b9c7,#01b8ca,#03b7cb,#03b6cc,#03b7cc,#02b7cb,#01b8c9,#01b9c6,#03bbc3,#09bcbe,#13beb8,#1fc0b2,#28c3aa)"></div>
<div class="r" style="top:167px;background:linear-gradient(90deg,#2ac3a9,#22c1b0,#17bfb6,#0dbdbc,#06bcc0,#02bac4,#01b9c6,#01b8c8,#01b8c9,#01b8c9,#01b8c8,#01b9c6,#02bbc3,#07bcbf,#0fbebb,#19bfb5,#24c1af,#2cc4a7)"></div>
<div class="r" style="top:168px;background:linear-gradient(90deg,#2dc4a6,#26c2ad,#1cc0b3,#13beb8,#0abdbd,#05bbc1,#02bac3,#02bac5,#01b9c6,#01b9c6,#02bac5,#02bbc3,#06bcc0,#0cbdbc,#15bfb7,#1fc0b2,#27c2ab,#2ec5a4)"></div>
<div class="r" style="top:169px;background:linear-gradient(90deg,#2fc5a3,#29c3aa,#21c1b0,#19bfb5,#10beba,#0abdbd,#06bcc0,#04bbc2,#03bbc2,#03bbc2,#04bbc1,#07bcbf,#0bbdbd,#12beb9,#1bc0b4,#24c1af,#2bc3a8,#31c5a1)"></div>
<div class="r" style="top:170px;background:linear-gradient(90deg,#31c6a0,#2cc4a7,#26c2ad,#1ec0b2,#17bfb6,#10beba,#0bbdbd,#09bcbe,#08bcbf,#08bcbf,#09bcbe,#0cbdbc,#12beb9,#19bfb5,#20c1b1,#27c2ab,#2dc4a5,#33c69d)"></div>
<div class="r" style="top:171px;background:linear-gradient(90deg,#34c79c,#2ec5a3,#29c3aa,#23c1af,#1cc0b3,#16bfb7,#12beb9,#0ebebb,#0dbdbc,#0dbdbb,#0fbeba,#13beb8,#18bfb6,#1ec0b2,#25c2ad,#2bc3a8,#30c5a1,#35c79a)"></div>
<div class="r" style="top:172px;background:linear-gradient(90deg,#36c899,#31c6a0,#2cc4a6,#27c2ac,#22c1b0,#1cc0b3,#18bfb6,#15bfb7,#14beb8,#14beb8,#16bfb7,#19bfb5,#1ec0b2,#24c1af,#29c3aa,#2ec4a4,#32c69e,#38c896)"></div>
<div class="r" style="top:173px;background:linear-gradient(90deg,#39c895,#33c79d,#2fc5a3,#2bc3a8,#26c2ac,#22c1b0,#1ec0b2,#1bc0b4,#1ac0b5,#1ac0b4,#1cc0b3,#1fc0b1,#24c1af,#28c2ab,#2cc4a6,#30c5a1,#35c79a,#3bc992)"></div>
<div class="r" style="top:174px;background:linear-gradient(90deg,#3cc992,#36c799,#31c6a0,#2dc4a5,#2ac3a9,#26c2ac,#23c1af,#21c1b0,#20c1b1,#20c1b1,#22c1b0,#25c2ae,#28c2ab,#2bc4a7,#2fc5a3,#33c69d,#38c896,#3fca8e)"></div>
<div class="r" style="top:175px;background:linear-gradient(90deg,#3fca8e,#38c896,#34c79c,#30c5a1,#2dc4a6,#2ac3a9,#27c2ab,#26c2ad,#25c2ad,#25c2ad,#26c2ac,#28c3aa,#2bc3a7,#2ec5a4,#32c69f,#36c799,#3bc992,#44ca8a)"></div>
<div class="r" style="top:176px;background:linear-gradient(90deg,#44ca8a,#3cc992,#36c898,#33c69e,#30c5a2,#2dc4a5,#2bc3a8,#2ac3a9,#29c3aa,#29c3aa,#2ac3a8,#2cc4a6,#2ec5a4,#31c6a0,#34c79b,#39c895,#3fca8e,#49cb86)"></div>
<div class="r" style="top:177px;background:linear-gradient(90deg,#48cb86,#3fca8e,#39c994,#35c79a,#32c69e,#30c5a1,#2ec5a4,#2dc4a5,#2dc4a6,#2dc4a6,#2ec4a5,#2fc5a3,#31c6a0,#34c79c,#37c897,#3cc991,#44cb8a,#4ecc81)"></div>
<div class="r" style="top:178px;background:linear-gradient(90deg,#4dcc82,#44cb8a,#3dc990,#38c896,#35c79a,#33c69e,#31c6a0,#30c5a1,#2fc5a2,#30c5a2,#30c5a1,#32c69f,#34c79c,#37c898,#3bc993,#41ca8d,#49cb85,#53cc7d)"></div>
<div class="r" style="top:179px;background:linear-gradient(90deg,#52cc7e,#49cb86,#41ca8c,#3cc992,#38c896,#35c79a,#34c79c,#33c69d,#32c69e,#33c69e,#33c79d,#35c79a,#37c898,#3ac993,#3fca8e,#46cb88,#4fcc81,#59cc78)"></div>
<div class="r" style="top:180px;background:linear-gradient(90deg,#57cc7a,#4ecc81,#46cb88,#3fca8e,#3cc992,#39c895,#37c898,#36c799,#35c79a,#35c79a,#36c898,#38c896,#3bc993,#3eca8f,#44cb8a,#4bcb83,#54cc7c,#5fcd73)"></div>
<div class="r" style="top:181px;background:linear-gradient(90deg,#5dcc75,#53cc7d,#4bcb84,#45cb89,#3fca8e,#3cc991,#3ac993,#39c895,#38c896,#39c895,#3ac994,#3cc992,#3fca8f,#43ca8a,#49cb85,#51cc7f,#5acc77,#65cd6e)"></div>
<div class="r" style="top:182px;background:linear-gradient(90deg,#62cd70,#59cc78,#51cc7f,#4acb85,#45cb89,#41ca8d,#3eca8f,#3dc990,#3cc991,#3dc991,#3eca8f,#40ca8d,#44cb8a,#49cb85,#4fcc80,#57cc7a,#60cd72,#6bcd69)"></div>
<div class="r" style="top:183px;background:linear-gradient(90deg,#68cd6c,#5ecd74,#56cc7b,#50cc80,#4acb84,#46cb88,#43ca8a,#41ca8c,#41ca8c,#41ca8c,#43ca8b,#46cb88,#49cb85,#4fcc81,#55cc7b,#5dcc75,#66cd6d,#71cd64)"></div>
<div class="r" style="top:184px;background:linear-gradient(90deg,#6dcd67,#64cd6f,#5ccc76,#55cc7b,#50cc80,#4ccb83,#49cb86,#47cb87,#46cb87,#47cb87,#49cb86,#4bcb83,#50cc80,#55cc7c,#5ccc76,#63cd6f,#6dcd68,#78cc5f)"></div>
<div class="r" style="top:185px;background:linear-gradient(90deg,#73cd62,#6acd6a,#62cd71,#5bcc76,#56cc7b,#52cc7e,#4fcc81,#4dcc82,#4ccb83,#4dcc82,#4fcc81,#52cc7e,#56cc7b,#5bcc76,#62cd71,#6acd6a,#74cd62,#7fcc5a)"></div>
<div class="r" style="top:186px;background:linear-gradient(90deg,#7acc5e,#70cd65,#68cd6c,#61cd71,#5ccc76,#58cc79,#55cc7c,#53cc7d,#53cc7d,#53cc7d,#55cc7b,#58cc79,#5ccc75,#62cd71,#69cd6b,#71cd64,#7acc5d,#85cb55)"></div>
<div class="r" style="top:187px;background:linear-gradient(90deg,#80cc59,#76cc60,#6ecd67,#67cd6c,#62cd70,#5ecd74,#5bcc76,#5acc78,#59cc78,#5acc78,#5ccc76,#5fcd73,#63cd70,#68cd6b,#6fcd66,#78cc5f,#81cc58,#8ccb50)"></div>
<div class="r" style="top:188px;background:linear-gradient(90deg,#86cb55,#7dcc5c,#75cc62,#6ecd67,#69cd6b,#64cd6e,#62cd71,#60cd72,#60cd73,#60cd72,#62cd70,#65cd6e,#6acd6a,#6fcd66,#76cc60,#7fcc5a,#88cb53,#93ca4b)"></div>
<div class="r" style="top:189px;background:linear-gradient(90deg,#8ccb50,#83cc57,#7bcc5d,#75cc62,#6fcd66,#6bcd69,#68cd6b,#67cd6d,#66cd6d,#67cd6c,#69cd6b,#6ccd68,#71cd64,#77cc60,#7ecc5b,#86cb55,#8fcb4e,#99c946)"></div>
<div class="r" style="top:190px;background:linear-gradient(90deg,#92ca4b,#8acb52,#82cc58,#7ccc5c,#76cc60,#72cd63,#6fcd66,#6ecd67,#6dcd67,#6ecd67,#70cd65,#73cd62,#78cc5f,#7ecc5b,#85cb55,#8dcb4f,#96ca48,#a0c941)"></div>
<div class="r" style="top:191px;background:linear-gradient(90deg,#98c947,#90ca4d,#89cb53,#82cc57,#7dcc5b,#79cc5e,#76cc60,#75cc61,#75cc62,#75cc61,#78cc5f,#7bcc5d,#80cc59,#85cb55,#8ccb50,#94ca4a,#9dc943,#a6c83d)"></div>
<div class="r" style="top:192px;background:linear-gradient(90deg,#9ec942,#96ca48,#8fcb4e,#89cb52,#84cb56,#80cc59,#7ecc5b,#7ccc5c,#7ccc5c,#7dcc5b,#7fcc5a,#83cc57,#87cb54,#8dcb50,#93ca4b,#9bc945,#a3c83f,#acc738)"></div>
<div class="r" style="top:193px;background:linear-gradient(90deg,#a4c83e,#9cc943,#96ca49,#90ca4d,#8bcb51,#88cb53,#85cb55,#84cc56,#84cc57,#84cb56,#87cb54,#8acb52,#8ecb4e,#94ca4a,#9ac945,#a2c840,#aac73a,#b3c534)"></div>
<div class="r" style="top:194px;background:linear-gradient(90deg,#aac73a,#a3c83f,#9cc944,#97ca48,#92ca4b,#8fcb4e,#8ccb50,#8bcb51,#8bcb51,#8ccb50,#8ecb4f,#91ca4c,#95ca49,#9bc945,#a1c840,#a8c73b,#b0c636,#b9c431)"></div>
<div class="r" style="top:195px;background:linear-gradient(90deg,#b0c636,#a9c73b,#a2c83f,#9dc943,#99c946,#96ca49,#93ca4a,#92ca4b,#92ca4b,#93ca4b,#95ca49,#98c946,#9dc943,#a2c840,#a8c73b,#afc637,#b6c532,#bfc32e)"></div>
<div class="r" style="top:196px;background:linear-gradient(90deg,#b5c533,#afc637,#a9c73b,#a4c83e,#a0c941,#9cc943,#9ac945,#99c946,#99c946,#9ac945,#9cc943,#a0c941,#a4c83e,#a9c73b,#afc637,#b5c533,#bdc42f,#c5c22a)"></div>
<div class="r" style="top:197px;background:linear-gradient(90deg,#bbc430,#b4c533,#afc637,#aac73a,#a6c83c,#a3c83f,#a1c840,#a0c841,#a0c841,#a1c840,#a4c83e,#a7c73c,#abc739,#afc636,#b5c533,#bcc42f,#c3c22b,#cac129)"></div>
<div class="r" style="top:198px;background:linear-gradient(90deg,#c0c32d,#bac430,#b5c533,#b0c636,#adc638,#aac73a,#a8c73b,#a7c73c,#a7c73c,#a8c73b,#abc739,#aec637,#b1c635,#b6c532,#bcc42f,#c2c22c,#c8c129,#d0c027)"></div>
<div class="r" style="top:199px;background:linear-gradient(90deg,#c6c22a,#c0c32d,#bbc430,#b7c532,#b3c534,#b1c636,#afc637,#aec637,#aec637,#afc636,#b1c635,#b4c533,#b8c431,#bdc42f,#c2c22c,#c8c129,#cec028,#d5be28)"></div>
<div class="r" style="top:200px;background:linear-gradient(90deg,#cbc129,#c5c22a,#c1c32c,#bdc42f,#b9c430,#b7c532,#b5c533,#b5c533,#b5c533,#b6c532,#b8c431,#bbc430,#bec32e,#c3c22b,#c8c129,#cec028,#d4bf27,#dabd28)"></div>
<div class="r" style="top:201px;background:linear-gradient(90deg,#d0c027,#cbc129,#c6c22a,#c2c22b,#bfc32d,#bdc32e,#bcc42f,#bbc42f,#bbc42f,#bdc42f,#bfc32e,#c1c32c,#c5c22a,#c9c129,#cec028,#d3bf27,#d9be28,#dfbc2a)"></div>
<div class="r" style="top:202px;background:linear-gradient(90deg,#d5be28,#d0bf27,#ccc028,#c8c129,#c5c22a,#c3c22b,#c2c22c,#c2c32c,#c2c22c,#c3c22b,#c5c22a,#c8c129,#cbc129,#cfc028,#d3bf27,#d9be28,#debc2a,#e4bb2c)"></div>
<div class="r" style="top:203px;background:linear-gradient(90deg,#d9bd28,#d5be28,#d1bf27,#cec028,#cbc129,#c9c129,#c8c129,#c8c129,#c8c129,#c9c129,#cbc129,#cec028,#d1bf27,#d5be28,#d9be28,#debd29,#e3bc2c,#e9bb2f)"></div>
<div class="r" style="top:204px;background:linear-gradient(90deg,#debd29,#dabd28,#d6be28,#d3bf27,#d1bf27,#cfc028,#cec028,#cec028,#cec028,#cfc028,#d1bf27,#d3bf27,#d6be28,#dabd28,#debc2a,#e3bc2c,#e8bb2f,#edba33)"></div>
<div class="r" style="top:205px;background:linear-gradient(90deg,#e2bc2b,#debc2a,#dbbd29,#d8be28,#d6be28,#d4be28,#d4bf27,#d3bf27,#d4bf28,#d5be28,#d7be28,#d9be28,#dcbd29,#dfbc2a,#e3bb2c,#e8bb2e,#ecba33,#f1ba37)"></div>
<div class="r" style="top:206px;background:linear-gradient(90deg,#e7bb2d,#e3bc2c,#e0bc2a,#ddbd29,#dbbd29,#dabd28,#d9be28,#d9be28,#d9bd28,#dabd28,#dcbd29,#debc2a,#e1bc2b,#e4bb2c,#e8bb2f,#ecba32,#f1ba36,#f5ba3a)"></div>
<div class="r" style="top:207px;background:linear-gradient(90deg,#ebba31,#e7bb2e,#e5bb2c,#e2bc2b,#e0bc2b,#dfbc2a,#debc2a,#debc2a,#dfbc2a,#e0bc2a,#e1bc2b,#e4bb2c,#e6bb2d,#e9bb30,#edba33,#f1ba36,#f5ba3a,#f9bb3d)"></div>
<div class="r" style="top:208px;background:linear-gradient(90deg,#eeba35,#ebba32,#e9bb30,#e7bb2e,#e5bb2d,#e4bb2c,#e3bb2c,#e3bc2c,#e4bb2c,#e5bb2d,#e6bb2d,#e8bb2f,#ebba31,#eeba34,#f1ba37,#f5ba3a,#f9ba3d,#fcbc3d)"></div>
<div class="r" style="top:209px;background:linear-gradient(90deg,#f2ba38,#efba36,#edba33,#ebba32,#eabb30,#e9bb2f,#e8bb2f,#e8bb2f,#e9bb2f,#eabb30,#ebba32,#edba33,#f0ba36,#f2ba38,#f5ba3b,#f9ba3d,#fbbc3d,#febe3c)"></div>
<div id="cbar"></div>
<svg width="520" height="542" viewBox="0 0 520 542">
<rect x="63" y="10.3" width="130.8" height="200" fill="none" stroke="#3a3a3a" stroke-width="0.7"/>
<path d="M128.25 210.3v-2M128.25 10.3v2" stroke="#6a6a6a"/>
<path d="M63 110.5h2M193.8 110.5h-2" stroke="#6a6a6a"/>
<rect x="213.1" y="10.2" width="13.6" height="201.9" fill="none" stroke="#6a6a6a" stroke-width="0.6"/>
<path d="M226.7 50.9879h-2" stroke="#6a6a6a"/>
<path d="M226.7 91.7758h-2" stroke="#6a6a6a"/>
<path d="M226.7 132.564h-2" stroke="#6a6a6a"/>
<path d="M226.7 173.352h-2" stroke="#6a6a6a"/>
<clipPath id="cb"><rect x="330.8" y="10.7" width="187.5" height="199.6"/></clipPath>
<g clip-path="url(#cb)">
<polyline fill="none" stroke="#0072bd" stroke-width="2.4" stroke-linejoin="round" stroke-linecap="butt" points="330.4,90 331.2,98 332.2,114 332.9,101 333.7,83 335.7,63.5 338.6,49.8 342.4,39.9 348.3,32.1 354,26.3 359.9,24.4 365.7,23 371.5,23.8 377.3,24.4 383.1,27.3 388,30.2 391.9,36 394.8,42.8 397.7,43.8 400.6,48.6 404.5,53.4 409.3,57 413.2,63.1 417,67.5 420,71.3 423.9,75.2 427.1,78 430.3,88.6 432.9,83.2 436.1,90.7 439.4,85.4 441.3,91.8 443.2,98.8 447.1,96 451,102.8 454.2,100.3 457.4,108.3 460.6,105.5 462.6,114.7 464.5,117 467.2,134.8 468.7,141.5 471.3,128 473.6,168 475.1,107.4 476.2,107.4 478.2,128 481,146.7 483,138.2 485.2,153 488.4,143.5 491.5,157.3 494.7,155.2 497,161 499,163.7 500.5,155.5 502,168 504.3,182.8 506.4,170 508.5,181.7 510.6,161.6 513.4,144.6 517,172 518.3,174"/>
<polyline fill="none" stroke="#d95319" stroke-width="2.4" stroke-linejoin="round" stroke-linecap="butt" points="330.4,88.3 331.2,96 332.2,112 332.9,100 333.7,82.5 335.7,63 338.6,49.6 342.4,39.9 348.3,32.1 354,26.3 359.9,24.4 365.7,23 371.5,23.8 377.3,24.4 383.1,27.3 388,30.2 391.9,36 394.8,42.8 397.7,43.8 400.6,48.6 404.5,53.4 409.3,57 413.2,63.1 417,67 420,70.8 423.9,74.7 427.1,77.3 430.3,87.6 432.9,82.4 436.1,89.5 439.4,84.4 441.3,90.8 443.2,97.3 447.1,94.7 451,101.1 454.2,98.8 457.4,106.3 460.6,103.7 462.6,112.7 464.5,114 467.1,121.8 469,129.5 471.3,121.6 473.8,137 476,123.8 478.2,139 480.9,186 483,163.7 486.2,157.3 489.4,165.8 492.6,160 494.5,163 496.4,212 498.3,163.7 501,180.7 504.3,156.5 506.4,178.6 509.6,160 513.4,143.5 516,161.6 518.3,163"/>
<polyline fill="none" stroke="#edb120" stroke-width="2.4" stroke-linejoin="round" stroke-linecap="butt" points="330.6,103 331.8,151.7 334.1,125.5 335.7,140 338.2,151.7 340.9,142 343.4,136.2 345.3,155.6 347.9,126.5 349.8,147.8 353.1,122.6 355,132.3 357,122.6 359.5,131.4 362.2,120.7 365.7,133.3 367.2,131.4 371.5,161.4 375,128.4 377.3,127.5 381.2,155.6 383.1,145.9 385.1,147.8 386.6,144.9 389,168.2 391.9,132.3 394.8,123 396.7,123.6 398.6,137.2 401.6,130.4 405.4,145.9 407.9,129.4 411.2,153.6 413.8,136.2 416.1,141 418.1,130.3 419.8,135.5 421.5,131.1 423.3,134.6 425.3,131.1 427.1,134.6 429.3,130.8 431.9,141.5 434,134.6 435.7,140.7 439.7,131.1 441.4,140.7 443.7,137.2 445.4,142.4 446.6,135.5 449.2,149.3 450.9,141.5 453.5,146.7 456.1,145 458.7,150.2 461,145.3 462.7,148.4 464.4,168.3 466.2,146.7 468.2,146.5 471,144.8 472.7,134.8 476,112 478.2,134.8 481,157 483,150 485.2,161.5 487,156 488.4,156.3 490.5,168 492.6,170 494.7,165 496.8,172.2 499,166 500,168 503.2,174.3 505.3,168 507.5,170 510.6,161.6 512.3,151 514.2,145.6 517,163.7 518.3,168"/>
</g>
<rect x="330.8" y="10.7" width="187.5" height="199.6" fill="none" stroke="#6a6a6a" stroke-width="1.15"/>
<path d="M406 210.3v-2 M406 10.7v2" stroke="#6a6a6a" stroke-width="1"/>
<path d="M480.75 210.3v-2 M480.75 10.7v2" stroke="#6a6a6a" stroke-width="1"/>
<path d="M330.8 60.6h2 M518.3 60.6h-2" stroke="#6a6a6a" stroke-width="1"/>
<path d="M330.8 110.5h2 M518.3 110.5h-2" stroke="#6a6a6a" stroke-width="1"/>
<path d="M330.8 160.4h2 M518.3 160.4h-2" stroke="#6a6a6a" stroke-width="1"/>
<rect x="429.6" y="13.2" width="85.4" height="62.2" fill="#fff" stroke="#6a6a6a" stroke-width="1"/>
<line x1="433.2" x2="465.6" y1="24.7" y2="24.7" stroke="#0072bd" stroke-width="2.4"/>
<line x1="433.2" x2="465.6" y1="44.9" y2="44.9" stroke="#d95319" stroke-width="2.4"/>
<line x1="433.2" x2="465.6" y1="65" y2="65" stroke="#edb120" stroke-width="2.4"/>
<text x="469.3" y="28.8" font-family="'Liberation Serif','DejaVu Serif',serif" font-size="15.5" font-style="italic" fill="#111" textLength="10.5" lengthAdjust="spacingAndGlyphs">E</text>
<text x="480.2" y="32" font-family="'Liberation Serif','DejaVu Serif',serif" font-size="10.5" font-style="italic" fill="#111" textLength="30.5" lengthAdjust="spacingAndGlyphs">β−P3</text>
<text x="469.3" y="48.9" font-family="'Liberation Serif','DejaVu Serif',serif" font-size="15.5" font-style="italic" fill="#111" textLength="10.5" lengthAdjust="spacingAndGlyphs">E</text>
<text x="480.2" y="52" font-family="'Liberation Serif','DejaVu Serif',serif" font-size="10.5" font-style="italic" fill="#111" textLength="6" lengthAdjust="spacingAndGlyphs">β</text>
<text x="486.2" y="43" font-family="'Liberation Serif','DejaVu Serif',serif" font-size="10.5" font-style="italic" fill="#111" textLength="21" lengthAdjust="spacingAndGlyphs">meas</text>
<text x="469.8" y="69.3" font-family="'Liberation Serif','DejaVu Serif',serif" font-size="15.5"  fill="#111" textLength="11.7" lengthAdjust="spacingAndGlyphs">Δ</text>
<text x="482.6" y="69.3" font-family="'Liberation Serif','DejaVu Serif',serif" font-size="15.5" font-style="italic" fill="#111" textLength="10.5" lengthAdjust="spacingAndGlyphs">E</text>
<text x="494" y="72.4" font-family="'Liberation Serif','DejaVu Serif',serif" font-size="10.5" font-style="italic" fill="#111" textLength="6.5" lengthAdjust="spacingAndGlyphs">β</text>
<text x="56.5" y="18.2" font-family="'Liberation Sans',Arial,sans-serif" font-size="17.4" font-weight="normal" text-anchor="end" fill="#0d0d0d" stroke="#0d0d0d" stroke-width="0.3" >-50</text>
<text x="56.5" y="117.7" font-family="'Liberation Sans',Arial,sans-serif" font-size="17.4" font-weight="normal" text-anchor="end" fill="#0d0d0d" stroke="#0d0d0d" stroke-width="0.3" >0</text>
<text x="56.5" y="217.2" font-family="'Liberation Sans',Arial,sans-serif" font-size="17.4" font-weight="normal" text-anchor="end" fill="#0d0d0d" stroke="#0d0d0d" stroke-width="0.3" >50</text>
<text x="63" y="234.8" font-family="'Liberation Sans',Arial,sans-serif" font-size="17.4" font-weight="normal" text-anchor="middle" fill="#0d0d0d" stroke="#0d0d0d" stroke-width="0.3" >-50</text>
<text x="128.25" y="234.8" font-family="'Liberation Sans',Arial,sans-serif" font-size="17.4" font-weight="normal" text-anchor="middle" fill="#0d0d0d" stroke="#0d0d0d" stroke-width="0.3" >0</text>
<text x="193.5" y="234.8" font-family="'Liberation Sans',Arial,sans-serif" font-size="17.4" font-weight="normal" text-anchor="middle" fill="#0d0d0d" stroke="#0d0d0d" stroke-width="0.3" >50</text>
<text x="232.3" y="17.4" font-family="'Liberation Sans',Arial,sans-serif" font-size="17.4" font-weight="normal" text-anchor="start" fill="#0d0d0d" stroke="#0d0d0d" stroke-width="0.3" >1</text>
<text x="232.3" y="58.1879" font-family="'Liberation Sans',Arial,sans-serif" font-size="17.4" font-weight="normal" text-anchor="start" fill="#0d0d0d" stroke="#0d0d0d" stroke-width="0.3" >0.8</text>
<text x="232.3" y="98.9758" font-family="'Liberation Sans',Arial,sans-serif" font-size="17.4" font-weight="normal" text-anchor="start" fill="#0d0d0d" stroke="#0d0d0d" stroke-width="0.3" >0.6</text>
<text x="232.3" y="139.764" font-family="'Liberation Sans',Arial,sans-serif" font-size="17.4" font-weight="normal" text-anchor="start" fill="#0d0d0d" stroke="#0d0d0d" stroke-width="0.3" >0.4</text>
<text x="232.3" y="180.552" font-family="'Liberation Sans',Arial,sans-serif" font-size="17.4" font-weight="normal" text-anchor="start" fill="#0d0d0d" stroke="#0d0d0d" stroke-width="0.3" >0.2</text>
<text x="324.5" y="17.95" font-family="'Liberation Sans',Arial,sans-serif" font-size="17.4" font-weight="normal" text-anchor="end" fill="#0d0d0d" stroke="#0d0d0d" stroke-width="0.3" >40</text>
<text x="324.5" y="67.8" font-family="'Liberation Sans',Arial,sans-serif" font-size="17.4" font-weight="normal" text-anchor="end" fill="#0d0d0d" stroke="#0d0d0d" stroke-width="0.3" >20</text>
<text x="324.5" y="117.7" font-family="'Liberation Sans',Arial,sans-serif" font-size="17.4" font-weight="normal" text-anchor="end" fill="#0d0d0d" stroke="#0d0d0d" stroke-width="0.3" >0</text>
<text x="324.5" y="167.6" font-family="'Liberation Sans',Arial,sans-serif" font-size="17.4" font-weight="normal" text-anchor="end" fill="#0d0d0d" stroke="#0d0d0d" stroke-width="0.3" >-20</text>
<text x="324.5" y="217.45" font-family="'Liberation Sans',Arial,sans-serif" font-size="17.4" font-weight="normal" text-anchor="end" fill="#0d0d0d" stroke="#0d0d0d" stroke-width="0.3" >-40</text>
<text x="330.75" y="234.8" font-family="'Liberation Sans',Arial,sans-serif" font-size="17.4" font-weight="normal" text-anchor="middle" fill="#0d0d0d" stroke="#0d0d0d" stroke-width="0.3" >0</text>
<text x="406" y="234.8" font-family="'Liberation Sans',Arial,sans-serif" font-size="17.4" font-weight="normal" text-anchor="middle" fill="#0d0d0d" stroke="#0d0d0d" stroke-width="0.3" >2</text>
<text x="480.75" y="234.8" font-family="'Liberation Sans',Arial,sans-serif" font-size="17.4" font-weight="normal" text-anchor="middle" fill="#0d0d0d" stroke="#0d0d0d" stroke-width="0.3" >4</text>
<line x1="108.4" y1="291.2" x2="108.4" y2="490.9" stroke="#ebebeb" stroke-width="1"/>
<line x1="165.7" y1="291.2" x2="165.7" y2="490.9" stroke="#ebebeb" stroke-width="1"/>
<line x1="223.1" y1="291.2" x2="223.1" y2="490.9" stroke="#ebebeb" stroke-width="1"/>
<line x1="63" y1="341.2" x2="251.6" y2="341.2" stroke="#ebebeb" stroke-width="1"/>
<line x1="63" y1="391.1" x2="251.6" y2="391.1" stroke="#ebebeb" stroke-width="1"/>
<line x1="63" y1="441.1" x2="251.6" y2="441.1" stroke="#ebebeb" stroke-width="1"/>
<clipPath id="cc"><rect x="63" y="291.2" width="188.6" height="199.7"/></clipPath>
<g clip-path="url(#cc)">
<polyline fill="none" stroke="#0072bd" stroke-width="2.4" stroke-linejoin="round" stroke-linecap="butt" points="62.9,326.6 67.8,336.8 73.6,345.2 79.4,353 89,361.7 98.8,368.4 108.4,373.3 118.1,380 127.8,385 137.5,390.7 143.3,393.6 151,399.5 155,400.3 160.8,406.2 166.6,411 169.5,410 173.4,414.9 177.3,415.9 181.2,419.7 185,419.7 188.9,423.6 191.8,425.5 194.7,423.6 198.6,431.4 202.5,429.4 205.8,438.1 208.9,436.2 213.1,445.9 217,442 221.9,457.5 225.2,448.8 229.6,460.4 234.1,454.6 237.4,472 242.2,458.5 245.7,481.7 250,467.2 251.7,463.3"/>
<polyline fill="none" stroke="#d95319" stroke-width="2.4" stroke-linejoin="round" stroke-linecap="butt" points="62.9,328.5 67.8,337.4 73.6,345 79.4,351.6 89,359.7 98.8,366.5 108.4,370.8 118.1,376.2 127.8,379 137.5,384 143.3,386.9 151,392.7 155,394.5 160.8,399.4 166.6,404.2 169.5,402.3 173.4,406.2 177.3,407.1 181.2,410 185,409 188.9,413 191.8,414.9 194.7,413 198.6,419.7 202.5,418.8 205.8,426.5 208.9,424.6 213.1,432.3 217,429.4 221.9,442 225.2,435.2 229.6,447.8 234.1,441 237.4,457.5 242.2,443 245.7,467.2 250.9,445 251.7,446"/>
</g>
<rect x="63" y="291.2" width="188.6" height="199.7" fill="none" stroke="#6a6a6a" stroke-width="1.15"/>
<path d="M108.4 490.9v-2 M108.4 291.2v2" stroke="#6a6a6a" stroke-width="1"/>
<path d="M165.7 490.9v-2 M165.7 291.2v2" stroke="#6a6a6a" stroke-width="1"/>
<path d="M223.1 490.9v-2 M223.1 291.2v2" stroke="#6a6a6a" stroke-width="1"/>
<path d="M63 341.2h2 M251.6 341.2h-2" stroke="#6a6a6a" stroke-width="1"/>
<path d="M63 391.1h2 M251.6 391.1h-2" stroke="#6a6a6a" stroke-width="1"/>
<path d="M63 441.1h2 M251.6 441.1h-2" stroke="#6a6a6a" stroke-width="1"/>
<rect x="96.8" y="300.4" width="147" height="44.5" fill="#fff" stroke="#6a6a6a" stroke-width="1"/>
<line x1="100.8" x2="134.2" y1="312.5" y2="312.5" stroke="#0072bd" stroke-width="2.4"/>
<line x1="100.8" x2="134.2" y1="333.75" y2="333.75" stroke="#d95319" stroke-width="2.4"/>
<text x="137.5" y="318.5" font-family="'Liberation Sans',Arial,sans-serif" font-size="16" font-weight="normal" text-anchor="start" fill="#000" stroke="#000" stroke-width="0.3" >w/o calibration</text>
<text x="137.5" y="340" font-family="'Liberation Sans',Arial,sans-serif" font-size="16" font-weight="normal" text-anchor="start" fill="#000" stroke="#000" stroke-width="0.3" >w/ calibration</text>
<text x="56.5" y="298.45" font-family="'Liberation Sans',Arial,sans-serif" font-size="17.4" font-weight="normal" text-anchor="end" fill="#0d0d0d" stroke="#0d0d0d" stroke-width="0.3" >1</text>
<text x="56.5" y="348.4" font-family="'Liberation Sans',Arial,sans-serif" font-size="17.4" font-weight="normal" text-anchor="end" fill="#0d0d0d" stroke="#0d0d0d" stroke-width="0.3" >0.8</text>
<text x="56.5" y="398.3" font-family="'Liberation Sans',Arial,sans-serif" font-size="17.4" font-weight="normal" text-anchor="end" fill="#0d0d0d" stroke="#0d0d0d" stroke-width="0.3" >0.6</text>
<text x="56.5" y="448.3" font-family="'Liberation Sans',Arial,sans-serif" font-size="17.4" font-weight="normal" text-anchor="end" fill="#0d0d0d" stroke="#0d0d0d" stroke-width="0.3" >0.4</text>
<text x="56.5" y="498.2" font-family="'Liberation Sans',Arial,sans-serif" font-size="17.4" font-weight="normal" text-anchor="end" fill="#0d0d0d" stroke="#0d0d0d" stroke-width="0.3" >0.2</text>
<text x="108.4" y="515.3" font-family="'Liberation Sans',Arial,sans-serif" font-size="17.4" font-weight="normal" text-anchor="middle" fill="#0d0d0d" stroke="#0d0d0d" stroke-width="0.3" >1</text>
<text x="165.7" y="515.3" font-family="'Liberation Sans',Arial,sans-serif" font-size="17.4" font-weight="normal" text-anchor="middle" fill="#0d0d0d" stroke="#0d0d0d" stroke-width="0.3" >2</text>
<text x="223.1" y="515.3" font-family="'Liberation Sans',Arial,sans-serif" font-size="17.4" font-weight="normal" text-anchor="middle" fill="#0d0d0d" stroke="#0d0d0d" stroke-width="0.3" >3</text>
<line x1="376.3" y1="291.2" x2="376.3" y2="491" stroke="#ebebeb" stroke-width="1"/>
<line x1="433.2" y1="291.2" x2="433.2" y2="491" stroke="#ebebeb" stroke-width="1"/>
<line x1="490.1" y1="291.2" x2="490.1" y2="491" stroke="#ebebeb" stroke-width="1"/>
<line x1="330.8" y1="310" x2="518.4" y2="310" stroke="#ebebeb" stroke-width="1"/>
<line x1="330.8" y1="359.25" x2="518.4" y2="359.25" stroke="#ebebeb" stroke-width="1"/>
<line x1="330.8" y1="408.5" x2="518.4" y2="408.5" stroke="#ebebeb" stroke-width="1"/>
<line x1="330.8" y1="457.75" x2="518.4" y2="457.75" stroke="#ebebeb" stroke-width="1"/>
<clipPath id="cd"><rect x="330.8" y="289.7" width="187.6" height="201.3"/></clipPath>
<g clip-path="url(#cd)">
<polyline fill="none" stroke="#0072bd" stroke-width="2.4" stroke-linejoin="round" stroke-linecap="butt" points="330.8,291.5 336.9,299 344.7,306.8 350.5,312 364.1,323.3 376.8,333.6 383.8,338 389.8,341.8 395.6,347.5 403.3,354.2 409.1,360 415.8,364.9 420.2,368.5 424.7,372.9 429.1,376.5 433.4,381.3 437.2,381.2 442.3,388.6 445.3,387.8 449,393.7 453.5,395.8 457.2,401.6 460.8,401.4 465.2,412.4 467.6,410.5 471,418.7 476.2,417.6 479.6,433.5 482.2,425.5 487,444.5 489.9,432 496.2,453.5 498.7,439.4 502.5,459 504.7,458 507.6,444.8 510.6,479.5 516,446.8 519.3,472"/>
<polyline fill="none" stroke="#d95319" stroke-width="2.4" stroke-linejoin="round" stroke-linecap="butt" points="330.8,292.4 336.6,299.5 344.4,307.3 350.2,312.5 363.8,323.8 376.4,334.4 383.1,339.3 389,343.1 394.8,349 402.5,355.7 408.3,361.6 415,366.6 419.4,370.3 423.9,374.8 428.3,378.5 432.7,383.6 436.4,383.6 441.6,391 444.5,390.3 448.2,396.2 452.7,398.4 456.4,404.3 460,404.3 464.5,415.4 467,413.9 470.4,422 475.6,421.3 479.2,435.4 482,429 487,446.2 490.4,437.4 496.4,454.9 499.1,444.8 502.5,460.3 504.5,460.3 507.2,448.8 510.6,481.1 516,451.5 519.3,490.6"/>
</g>
<rect x="330.8" y="291.2" width="187.6" height="199.8" fill="none" stroke="#6a6a6a" stroke-width="1.15"/>
<path d="M376.3 491v-2 M376.3 291.2v2" stroke="#6a6a6a" stroke-width="1"/>
<path d="M433.2 491v-2 M433.2 291.2v2" stroke="#6a6a6a" stroke-width="1"/>
<path d="M490.1 491v-2 M490.1 291.2v2" stroke="#6a6a6a" stroke-width="1"/>
<path d="M330.8 310h2 M518.4 310h-2" stroke="#6a6a6a" stroke-width="1"/>
<path d="M330.8 359.25h2 M518.4 359.25h-2" stroke="#6a6a6a" stroke-width="1"/>
<path d="M330.8 408.5h2 M518.4 408.5h-2" stroke="#6a6a6a" stroke-width="1"/>
<path d="M330.8 457.75h2 M518.4 457.75h-2" stroke="#6a6a6a" stroke-width="1"/>
<rect x="336" y="439.7" width="146" height="44.8" fill="#fff" stroke="#6a6a6a" stroke-width="1"/>
<line x1="339.5" x2="372.8" y1="451.5" y2="451.5" stroke="#0072bd" stroke-width="2.4"/>
<line x1="339.5" x2="372.8" y1="472.7" y2="472.7" stroke="#d95319" stroke-width="2.4"/>
<text x="375.7" y="457.5" font-family="'Liberation Sans',Arial,sans-serif" font-size="16" font-weight="normal" text-anchor="start" fill="#000" stroke="#000" stroke-width="0.3" >w/o calibration</text>
<text x="375.7" y="478.8" font-family="'Liberation Sans',Arial,sans-serif" font-size="16" font-weight="normal" text-anchor="start" fill="#000" stroke="#000" stroke-width="0.3" >w/ calibration</text>
<text x="324.5" y="317.2" font-family="'Liberation Sans',Arial,sans-serif" font-size="17.4" font-weight="normal" text-anchor="end" fill="#0d0d0d" stroke="#0d0d0d" stroke-width="0.3" >160</text>
<text x="324.5" y="366.45" font-family="'Liberation Sans',Arial,sans-serif" font-size="17.4" font-weight="normal" text-anchor="end" fill="#0d0d0d" stroke="#0d0d0d" stroke-width="0.3" >140</text>
<text x="324.5" y="415.7" font-family="'Liberation Sans',Arial,sans-serif" font-size="17.4" font-weight="normal" text-anchor="end" fill="#0d0d0d" stroke="#0d0d0d" stroke-width="0.3" >120</text>
<text x="324.5" y="464.95" font-family="'Liberation Sans',Arial,sans-serif" font-size="17.4" font-weight="normal" text-anchor="end" fill="#0d0d0d" stroke="#0d0d0d" stroke-width="0.3" >100</text>
<text x="376.3" y="515.3" font-family="'Liberation Sans',Arial,sans-serif" font-size="17.4" font-weight="normal" text-anchor="middle" fill="#0d0d0d" stroke="#0d0d0d" stroke-width="0.3" >1</text>
<text x="433.2" y="515.3" font-family="'Liberation Sans',Arial,sans-serif" font-size="17.4" font-weight="normal" text-anchor="middle" fill="#0d0d0d" stroke="#0d0d0d" stroke-width="0.3" >2</text>
<text x="490.1" y="515.3" font-family="'Liberation Sans',Arial,sans-serif" font-size="17.4" font-weight="normal" text-anchor="middle" fill="#0d0d0d" stroke="#0d0d0d" stroke-width="0.3" >3</text>
<text x="0.2" y="17" font-family="'Liberation Sans',Arial,sans-serif" font-size="21" font-weight="bold" text-anchor="start" fill="#000" stroke="#000" stroke-width="0.3" >(a)</text>
<text x="264.2" y="16.8" font-family="'Liberation Sans',Arial,sans-serif" font-size="21" font-weight="bold" text-anchor="start" fill="#000" stroke="#000" stroke-width="0.3" >(b)</text>
<text x="0.2" y="299.4" font-family="'Liberation Sans',Arial,sans-serif" font-size="21" font-weight="bold" text-anchor="start" fill="#000" stroke="#000" stroke-width="0.3" >(c)</text>
<text x="264.5" y="299.4" font-family="'Liberation Sans',Arial,sans-serif" font-size="21" font-weight="bold" text-anchor="start" fill="#000" stroke="#000" stroke-width="0.3" >(d)</text>
<text x="108.8" y="255.9" font-family="'Liberation Serif','DejaVu Serif',serif" font-size="16" font-style="italic" text-anchor="start" fill="#3a3a3a" textLength="9.6" lengthAdjust="spacingAndGlyphs">τ</text>
<text x="118.6" y="258.8" font-family="'Liberation Serif','DejaVu Serif',serif" font-size="12" font-style="italic" text-anchor="start" fill="#3a3a3a">β</text>
<text x="134.2" y="256.3" font-family="'Liberation Serif','DejaVu Serif',serif" font-size="19.5" text-anchor="start" fill="#3a3a3a">(fs)</text>
<text x="24.2" y="144.3" font-family="'Liberation Serif','DejaVu Serif',serif" font-size="16" font-style="italic" text-anchor="start" fill="#3a3a3a" textLength="9.6" lengthAdjust="spacingAndGlyphs" transform="rotate(-90 24.2 144.3)">τ</text>
<text x="27.2" y="134.5" font-family="'Liberation Serif','DejaVu Serif',serif" font-size="12" font-style="italic" text-anchor="start" fill="#3a3a3a" transform="rotate(-90 27.2 134.5)">p</text>
<text x="24.8" y="120" font-family="'Liberation Serif','DejaVu Serif',serif" font-size="22" text-anchor="start" fill="#3a3a3a" textLength="26.8" lengthAdjust="spacingAndGlyphs" transform="rotate(-90 24.8 120)">(fs)</text>
<text x="391.5" y="257" font-family="'Liberation Serif','DejaVu Serif',serif" font-size="20.5" font-style="italic" text-anchor="start" fill="#3a3a3a">f</text>
<text x="407.8" y="257" font-family="'Liberation Serif','DejaVu Serif',serif" font-size="19.5" text-anchor="start" fill="#3a3a3a" textLength="52.5" lengthAdjust="spacingAndGlyphs">(THz)</text>
<text x="124.2" y="536.8" font-family="'Liberation Serif','DejaVu Serif',serif" font-size="20.5" font-style="italic" text-anchor="start" fill="#3a3a3a">f</text>
<text x="140.5" y="536.8" font-family="'Liberation Serif','DejaVu Serif',serif" font-size="19.5" text-anchor="start" fill="#3a3a3a" textLength="52.5" lengthAdjust="spacingAndGlyphs">(THz)</text>
<text x="391.5" y="536.8" font-family="'Liberation Serif','DejaVu Serif',serif" font-size="20.5" font-style="italic" text-anchor="start" fill="#3a3a3a">f</text>
<text x="407.8" y="536.8" font-family="'Liberation Serif','DejaVu Serif',serif" font-size="19.5" text-anchor="start" fill="#3a3a3a" textLength="52.5" lengthAdjust="spacingAndGlyphs">(THz)</text>
<text x="23" y="412.9" font-family="'Liberation Serif','DejaVu Serif',serif" font-size="21.5" text-anchor="start" fill="#3a3a3a" textLength="42.5" lengthAdjust="spacingAndGlyphs" transform="rotate(-90 23 412.9)">tan Ψ</text>
<text x="279.1" y="410.3" font-family="'Liberation Serif','DejaVu Serif',serif" font-size="22" text-anchor="start" fill="#3a3a3a" textLength="37.5" lengthAdjust="spacingAndGlyphs" transform="rotate(-90 279.1 410.3)">Δ(°)</text>
<text x="291" y="108.8" font-family="'Liberation Sans',Arial,sans-serif" font-size="19.8" text-anchor="middle" fill="#000" stroke="#000" stroke-width="0.3" transform="rotate(-90 291 108.8)">Magnitude (dB)</text>
<rect x="45.6256" y="295.529" width="5.2803" height="4.171" fill="#fff"/>
<rect x="52.806" y="295.529" width="4.02462" height="4.171" fill="#fff"/>
<rect x="231.1" y="14.529" width="5.2803" height="4.171" fill="#fff"/>
<rect x="238.28" y="14.529" width="4.02462" height="4.171" fill="#fff"/>
<rect x="102.363" y="512.429" width="5.2803" height="4.171" fill="#fff"/>
<rect x="109.543" y="512.429" width="4.02462" height="4.171" fill="#fff"/>
<rect x="370.263" y="512.429" width="5.2803" height="4.171" fill="#fff"/>
<rect x="377.443" y="512.429" width="4.02462" height="4.171" fill="#fff"/>
<rect x="294.277" y="314.329" width="5.2803" height="4.171" fill="#fff"/>
<rect x="301.457" y="314.329" width="4.02462" height="4.171" fill="#fff"/>
<rect x="294.277" y="363.579" width="5.2803" height="4.171" fill="#fff"/>
<rect x="301.457" y="363.579" width="4.02462" height="4.171" fill="#fff"/>
<rect x="294.277" y="412.829" width="5.2803" height="4.171" fill="#fff"/>
<rect x="301.457" y="412.829" width="4.02462" height="4.171" fill="#fff"/>
<rect x="294.277" y="462.079" width="5.2803" height="4.171" fill="#fff"/>
<rect x="301.457" y="462.079" width="4.02462" height="4.171" fill="#fff"/>
</svg>
</div>
</body></html>
